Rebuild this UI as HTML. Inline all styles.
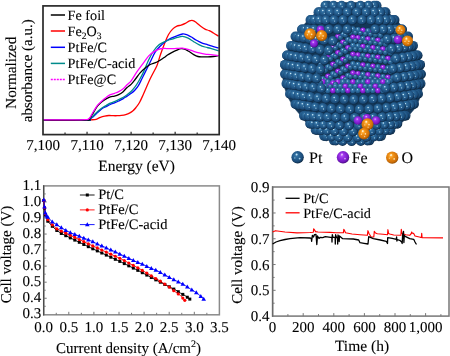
<!DOCTYPE html>
<html><head><meta charset="utf-8"><title>Figure</title>
<style>
html,body{margin:0;padding:0;background:#fff;}
body{width:450px;height:356px;overflow:hidden;}
svg{display:block;}
text{font-family:"Liberation Serif","Times New Roman",serif;fill:#000;stroke:#000;stroke-width:0.1px;text-rendering:geometricPrecision;}
</style></head><body>
<svg width="450" height="356" viewBox="0 0 450 356">
<defs><clipPath id="clipA"><rect x="43" y="5.9" width="176.2" height="128.7"/></clipPath></defs>
<rect width="450" height="356" fill="#fff"/>
<defs><radialGradient id="gPt" cx="0.45" cy="0.42" r="0.6" fx="0.38" fy="0.32"><stop offset="0" stop-color="#4a88b8"/><stop offset="0.13" stop-color="#3574a6"/><stop offset="0.35" stop-color="#2a6697"/><stop offset="0.78" stop-color="#1a4a78"/><stop offset="1" stop-color="#0a2238"/></radialGradient><radialGradient id="gPtB" cx="0.45" cy="0.42" r="0.6" fx="0.38" fy="0.32"><stop offset="0" stop-color="#a0d0ee"/><stop offset="0.13" stop-color="#4880ae"/><stop offset="0.35" stop-color="#225a88"/><stop offset="0.78" stop-color="#173f66"/><stop offset="1" stop-color="#0a2036"/></radialGradient><radialGradient id="gPt2" cx="0.45" cy="0.42" r="0.6" fx="0.38" fy="0.32"><stop offset="0" stop-color="#5a98c8"/><stop offset="0.13" stop-color="#4284b6"/><stop offset="0.35" stop-color="#3274a8"/><stop offset="0.78" stop-color="#225a8a"/><stop offset="1" stop-color="#0f2c48"/></radialGradient><radialGradient id="gPt3" cx="0.45" cy="0.42" r="0.6" fx="0.38" fy="0.32"><stop offset="0" stop-color="#4a88b8"/><stop offset="0.13" stop-color="#3676a8"/><stop offset="0.35" stop-color="#2a6898"/><stop offset="0.78" stop-color="#1c4e7c"/><stop offset="1" stop-color="#0c2640"/></radialGradient><radialGradient id="gFe" cx="0.45" cy="0.42" r="0.6" fx="0.38" fy="0.32"><stop offset="0" stop-color="#d890ff"/><stop offset="0.13" stop-color="#b050f5"/><stop offset="0.35" stop-color="#9a2ee8"/><stop offset="0.78" stop-color="#7418c0"/><stop offset="1" stop-color="#420878"/></radialGradient><radialGradient id="gO" cx="0.45" cy="0.42" r="0.6" fx="0.38" fy="0.32"><stop offset="0" stop-color="#fff0c0"/><stop offset="0.13" stop-color="#ffb040"/><stop offset="0.35" stop-color="#f09014"/><stop offset="0.78" stop-color="#d07008"/><stop offset="1" stop-color="#8a4800"/></radialGradient></defs>
<polygon points="325.0,2.6 377.0,2.6 378.8,5.6 387.8,12.2 396.8,20.0 404.3,29.5 410.3,39.0 415.3,48.5 419.8,58.3 422.3,67.8 423.3,77.2 422.8,86.8 420.3,96.8 416.3,106.8 407.8,116.8 399.8,124.7 392.8,130.8 383.4,136.9 371.8,141.0 368.0,143.2 335.3,143.2 331.5,141.0 321.8,136.9 313.2,130.8 307.7,124.7 301.7,116.8 293.2,106.8 287.7,96.8 284.2,86.8 282.7,77.2 282.7,67.8 284.7,58.3 288.7,48.5 293.2,39.0 299.7,29.5 308.2,20.0 316.2,12.2 323.2,5.6" fill="#133758" stroke="#133758" stroke-width="0.5" stroke-linejoin="round"/>
<polygon points="355,26.5 364,28 372,29.5 380,36 386,45 390,55 392.5,65 391,75 387,85 380,91.5 350,92.5 330,91.5 321,86 319.5,75 323,65 327.5,55 334,45 342,35 349,28.5" fill="#15364f"/>
<circle cx="353.0" cy="29.2" r="2.9" fill="url(#gPt2)"/>
<circle cx="352.5" cy="28.2" r="0.55" fill="#d8f0ff" fill-opacity="0.75"/>
<circle cx="358.0" cy="29.8" r="2.9" fill="url(#gPt2)"/>
<circle cx="357.5" cy="28.8" r="0.55" fill="#d8f0ff" fill-opacity="0.75"/>
<circle cx="363.0" cy="30.4" r="2.9" fill="url(#gFe)"/>
<circle cx="362.5" cy="29.4" r="0.55" fill="#f0d8ff" fill-opacity="0.75"/>
<circle cx="368.0" cy="31.0" r="2.9" fill="url(#gPt2)"/>
<circle cx="367.5" cy="30.0" r="0.55" fill="#d8f0ff" fill-opacity="0.75"/>
<circle cx="373.0" cy="31.6" r="2.9" fill="url(#gFe)"/>
<circle cx="372.5" cy="30.6" r="0.55" fill="#f0d8ff" fill-opacity="0.75"/>
<circle cx="348.0" cy="31.7" r="2.9" fill="url(#gFe)"/>
<circle cx="347.5" cy="30.7" r="0.55" fill="#f0d8ff" fill-opacity="0.75"/>
<circle cx="378.0" cy="32.2" r="2.9" fill="url(#gPt2)"/>
<circle cx="377.5" cy="31.2" r="0.55" fill="#d8f0ff" fill-opacity="0.75"/>
<circle cx="350.5" cy="32.8" r="2.6" fill="url(#gPt3)"/>
<circle cx="350.0" cy="31.8" r="0.55" fill="#d8f0ff" fill-opacity="0.75"/>
<circle cx="355.5" cy="32.8" r="2.6" fill="url(#gPt3)"/>
<circle cx="355.0" cy="31.8" r="0.55" fill="#d8f0ff" fill-opacity="0.75"/>
<circle cx="360.5" cy="33.4" r="2.6" fill="url(#gPt3)"/>
<circle cx="360.0" cy="32.4" r="0.55" fill="#d8f0ff" fill-opacity="0.75"/>
<circle cx="365.5" cy="34.0" r="2.6" fill="url(#gPt3)"/>
<circle cx="365.0" cy="33.0" r="0.55" fill="#d8f0ff" fill-opacity="0.75"/>
<circle cx="343.0" cy="34.2" r="2.9" fill="url(#gPt2)"/>
<circle cx="342.5" cy="33.2" r="0.55" fill="#d8f0ff" fill-opacity="0.75"/>
<circle cx="370.5" cy="34.6" r="2.6" fill="url(#gPt3)"/>
<circle cx="370.0" cy="33.6" r="0.55" fill="#d8f0ff" fill-opacity="0.75"/>
<circle cx="375.5" cy="35.2" r="2.6" fill="url(#gPt3)"/>
<circle cx="375.0" cy="34.2" r="0.55" fill="#d8f0ff" fill-opacity="0.75"/>
<circle cx="345.5" cy="35.3" r="2.6" fill="url(#gPt3)"/>
<circle cx="345.0" cy="34.3" r="0.55" fill="#d8f0ff" fill-opacity="0.75"/>
<circle cx="380.5" cy="35.8" r="2.6" fill="url(#gPt3)"/>
<circle cx="380.0" cy="34.8" r="0.55" fill="#d8f0ff" fill-opacity="0.75"/>
<circle cx="338.0" cy="36.7" r="2.9" fill="url(#gFe)"/>
<circle cx="337.5" cy="35.7" r="0.55" fill="#f0d8ff" fill-opacity="0.75"/>
<circle cx="353.0" cy="37.3" r="2.9" fill="url(#gFe)"/>
<circle cx="352.5" cy="36.3" r="0.55" fill="#f0d8ff" fill-opacity="0.75"/>
<circle cx="340.5" cy="37.8" r="2.6" fill="url(#gPt3)"/>
<circle cx="340.0" cy="36.8" r="0.55" fill="#d8f0ff" fill-opacity="0.75"/>
<circle cx="358.0" cy="37.9" r="2.9" fill="url(#gFe)"/>
<circle cx="357.5" cy="36.9" r="0.55" fill="#f0d8ff" fill-opacity="0.75"/>
<circle cx="363.0" cy="38.5" r="2.9" fill="url(#gPt2)"/>
<circle cx="362.5" cy="37.5" r="0.55" fill="#d8f0ff" fill-opacity="0.75"/>
<circle cx="368.0" cy="39.1" r="2.9" fill="url(#gFe)"/>
<circle cx="367.5" cy="38.1" r="0.55" fill="#f0d8ff" fill-opacity="0.75"/>
<circle cx="373.0" cy="39.7" r="2.9" fill="url(#gPt2)"/>
<circle cx="372.5" cy="38.7" r="0.55" fill="#d8f0ff" fill-opacity="0.75"/>
<circle cx="348.0" cy="39.8" r="2.9" fill="url(#gPt2)"/>
<circle cx="347.5" cy="38.8" r="0.55" fill="#d8f0ff" fill-opacity="0.75"/>
<circle cx="378.0" cy="40.3" r="2.9" fill="url(#gFe)"/>
<circle cx="377.5" cy="39.3" r="0.55" fill="#f0d8ff" fill-opacity="0.75"/>
<circle cx="335.5" cy="40.3" r="2.6" fill="url(#gPt3)"/>
<circle cx="335.0" cy="39.3" r="0.55" fill="#d8f0ff" fill-opacity="0.75"/>
<circle cx="383.0" cy="40.9" r="2.9" fill="url(#gPt2)"/>
<circle cx="382.5" cy="39.9" r="0.55" fill="#d8f0ff" fill-opacity="0.75"/>
<circle cx="350.5" cy="40.9" r="2.6" fill="url(#gPt3)"/>
<circle cx="350.0" cy="39.9" r="0.55" fill="#d8f0ff" fill-opacity="0.75"/>
<circle cx="355.5" cy="40.9" r="2.6" fill="url(#gPt3)"/>
<circle cx="355.0" cy="39.9" r="0.55" fill="#d8f0ff" fill-opacity="0.75"/>
<circle cx="360.5" cy="41.5" r="2.6" fill="url(#gPt3)"/>
<circle cx="360.0" cy="40.5" r="0.55" fill="#d8f0ff" fill-opacity="0.75"/>
<circle cx="365.5" cy="42.1" r="2.6" fill="url(#gPt3)"/>
<circle cx="365.0" cy="41.1" r="0.55" fill="#d8f0ff" fill-opacity="0.75"/>
<circle cx="343.0" cy="42.3" r="2.9" fill="url(#gFe)"/>
<circle cx="342.5" cy="41.3" r="0.55" fill="#f0d8ff" fill-opacity="0.75"/>
<circle cx="370.5" cy="42.7" r="2.6" fill="url(#gPt3)"/>
<circle cx="370.0" cy="41.7" r="0.55" fill="#d8f0ff" fill-opacity="0.75"/>
<circle cx="375.5" cy="43.3" r="2.6" fill="url(#gPt3)"/>
<circle cx="375.0" cy="42.3" r="0.55" fill="#d8f0ff" fill-opacity="0.75"/>
<circle cx="345.5" cy="43.4" r="2.6" fill="url(#gPt3)"/>
<circle cx="345.0" cy="42.4" r="0.55" fill="#d8f0ff" fill-opacity="0.75"/>
<circle cx="380.5" cy="43.9" r="2.6" fill="url(#gPt3)"/>
<circle cx="380.0" cy="42.9" r="0.55" fill="#d8f0ff" fill-opacity="0.75"/>
<circle cx="385.5" cy="44.5" r="2.6" fill="url(#gPt3)"/>
<circle cx="385.0" cy="43.5" r="0.55" fill="#d8f0ff" fill-opacity="0.75"/>
<circle cx="338.0" cy="44.8" r="2.9" fill="url(#gPt2)"/>
<circle cx="337.5" cy="43.8" r="0.55" fill="#d8f0ff" fill-opacity="0.75"/>
<circle cx="353.0" cy="45.5" r="2.9" fill="url(#gPt2)"/>
<circle cx="352.5" cy="44.5" r="0.55" fill="#d8f0ff" fill-opacity="0.75"/>
<circle cx="340.5" cy="45.9" r="2.6" fill="url(#gPt3)"/>
<circle cx="340.0" cy="44.9" r="0.55" fill="#d8f0ff" fill-opacity="0.75"/>
<circle cx="358.0" cy="46.1" r="2.9" fill="url(#gPt2)"/>
<circle cx="357.5" cy="45.1" r="0.55" fill="#d8f0ff" fill-opacity="0.75"/>
<circle cx="363.0" cy="46.7" r="2.9" fill="url(#gFe)"/>
<circle cx="362.5" cy="45.7" r="0.55" fill="#f0d8ff" fill-opacity="0.75"/>
<circle cx="333.0" cy="47.3" r="2.9" fill="url(#gFe)"/>
<circle cx="332.5" cy="46.3" r="0.55" fill="#f0d8ff" fill-opacity="0.75"/>
<circle cx="368.0" cy="47.3" r="2.9" fill="url(#gPt2)"/>
<circle cx="367.5" cy="46.3" r="0.55" fill="#d8f0ff" fill-opacity="0.75"/>
<circle cx="373.0" cy="47.9" r="2.9" fill="url(#gFe)"/>
<circle cx="372.5" cy="46.9" r="0.55" fill="#f0d8ff" fill-opacity="0.75"/>
<circle cx="348.0" cy="48.0" r="2.9" fill="url(#gFe)"/>
<circle cx="347.5" cy="47.0" r="0.55" fill="#f0d8ff" fill-opacity="0.75"/>
<circle cx="335.5" cy="48.4" r="2.6" fill="url(#gPt3)"/>
<circle cx="335.0" cy="47.4" r="0.55" fill="#d8f0ff" fill-opacity="0.75"/>
<circle cx="378.0" cy="48.5" r="2.9" fill="url(#gPt2)"/>
<circle cx="377.5" cy="47.5" r="0.55" fill="#d8f0ff" fill-opacity="0.75"/>
<circle cx="383.0" cy="49.1" r="2.9" fill="url(#gFe)"/>
<circle cx="382.5" cy="48.1" r="0.55" fill="#f0d8ff" fill-opacity="0.75"/>
<circle cx="350.5" cy="49.1" r="2.6" fill="url(#gPt3)"/>
<circle cx="350.0" cy="48.1" r="0.55" fill="#d8f0ff" fill-opacity="0.75"/>
<circle cx="355.5" cy="49.1" r="2.6" fill="url(#gPt3)"/>
<circle cx="355.0" cy="48.1" r="0.55" fill="#d8f0ff" fill-opacity="0.75"/>
<circle cx="388.0" cy="49.7" r="2.9" fill="url(#gPt2)"/>
<circle cx="387.5" cy="48.7" r="0.55" fill="#d8f0ff" fill-opacity="0.75"/>
<circle cx="360.5" cy="49.7" r="2.6" fill="url(#gPt3)"/>
<circle cx="360.0" cy="48.7" r="0.55" fill="#d8f0ff" fill-opacity="0.75"/>
<circle cx="328.0" cy="49.8" r="2.9" fill="url(#gPt2)"/>
<circle cx="327.5" cy="48.8" r="0.55" fill="#d8f0ff" fill-opacity="0.75"/>
<circle cx="365.5" cy="50.3" r="2.6" fill="url(#gPt3)"/>
<circle cx="365.0" cy="49.3" r="0.55" fill="#d8f0ff" fill-opacity="0.75"/>
<circle cx="343.0" cy="50.5" r="2.9" fill="url(#gPt2)"/>
<circle cx="342.5" cy="49.5" r="0.55" fill="#d8f0ff" fill-opacity="0.75"/>
<circle cx="330.5" cy="50.9" r="2.6" fill="url(#gPt3)"/>
<circle cx="330.0" cy="49.9" r="0.55" fill="#d8f0ff" fill-opacity="0.75"/>
<circle cx="370.5" cy="50.9" r="2.6" fill="url(#gPt3)"/>
<circle cx="370.0" cy="49.9" r="0.55" fill="#d8f0ff" fill-opacity="0.75"/>
<circle cx="375.5" cy="51.5" r="2.6" fill="url(#gPt3)"/>
<circle cx="375.0" cy="50.5" r="0.55" fill="#d8f0ff" fill-opacity="0.75"/>
<circle cx="345.5" cy="51.6" r="2.6" fill="url(#gPt3)"/>
<circle cx="345.0" cy="50.6" r="0.55" fill="#d8f0ff" fill-opacity="0.75"/>
<circle cx="380.5" cy="52.1" r="2.6" fill="url(#gPt3)"/>
<circle cx="380.0" cy="51.1" r="0.55" fill="#d8f0ff" fill-opacity="0.75"/>
<circle cx="385.5" cy="52.7" r="2.6" fill="url(#gPt3)"/>
<circle cx="385.0" cy="51.7" r="0.55" fill="#d8f0ff" fill-opacity="0.75"/>
<circle cx="338.0" cy="53.0" r="2.9" fill="url(#gFe)"/>
<circle cx="337.5" cy="52.0" r="0.55" fill="#f0d8ff" fill-opacity="0.75"/>
<circle cx="390.5" cy="53.3" r="2.6" fill="url(#gPt3)"/>
<circle cx="390.0" cy="52.3" r="0.55" fill="#d8f0ff" fill-opacity="0.75"/>
<circle cx="325.5" cy="53.4" r="2.6" fill="url(#gPt3)"/>
<circle cx="325.0" cy="52.4" r="0.55" fill="#d8f0ff" fill-opacity="0.75"/>
<circle cx="340.5" cy="54.1" r="2.6" fill="url(#gPt3)"/>
<circle cx="340.0" cy="53.1" r="0.55" fill="#d8f0ff" fill-opacity="0.75"/>
<circle cx="353.0" cy="54.5" r="2.9" fill="url(#gFe)"/>
<circle cx="352.5" cy="53.5" r="0.55" fill="#f0d8ff" fill-opacity="0.75"/>
<circle cx="358.0" cy="55.1" r="2.9" fill="url(#gFe)"/>
<circle cx="357.5" cy="54.1" r="0.55" fill="#f0d8ff" fill-opacity="0.75"/>
<circle cx="333.0" cy="55.5" r="2.9" fill="url(#gPt2)"/>
<circle cx="332.5" cy="54.5" r="0.55" fill="#d8f0ff" fill-opacity="0.75"/>
<circle cx="363.0" cy="55.7" r="2.9" fill="url(#gPt2)"/>
<circle cx="362.5" cy="54.7" r="0.55" fill="#d8f0ff" fill-opacity="0.75"/>
<circle cx="368.0" cy="56.3" r="2.9" fill="url(#gFe)"/>
<circle cx="367.5" cy="55.3" r="0.55" fill="#f0d8ff" fill-opacity="0.75"/>
<circle cx="335.5" cy="56.6" r="2.6" fill="url(#gPt3)"/>
<circle cx="335.0" cy="55.6" r="0.55" fill="#d8f0ff" fill-opacity="0.75"/>
<circle cx="373.0" cy="56.9" r="2.9" fill="url(#gPt2)"/>
<circle cx="372.5" cy="55.9" r="0.55" fill="#d8f0ff" fill-opacity="0.75"/>
<circle cx="348.0" cy="57.0" r="2.9" fill="url(#gPt2)"/>
<circle cx="347.5" cy="56.0" r="0.55" fill="#d8f0ff" fill-opacity="0.75"/>
<circle cx="378.0" cy="57.5" r="2.9" fill="url(#gFe)"/>
<circle cx="377.5" cy="56.5" r="0.55" fill="#f0d8ff" fill-opacity="0.75"/>
<circle cx="328.0" cy="58.0" r="2.9" fill="url(#gFe)"/>
<circle cx="327.5" cy="57.0" r="0.55" fill="#f0d8ff" fill-opacity="0.75"/>
<circle cx="383.0" cy="58.1" r="2.9" fill="url(#gPt2)"/>
<circle cx="382.5" cy="57.1" r="0.55" fill="#d8f0ff" fill-opacity="0.75"/>
<circle cx="350.5" cy="58.1" r="2.6" fill="url(#gPt3)"/>
<circle cx="350.0" cy="57.1" r="0.55" fill="#d8f0ff" fill-opacity="0.75"/>
<circle cx="355.5" cy="58.1" r="2.6" fill="url(#gPt3)"/>
<circle cx="355.0" cy="57.1" r="0.55" fill="#d8f0ff" fill-opacity="0.75"/>
<circle cx="388.0" cy="58.7" r="2.9" fill="url(#gFe)"/>
<circle cx="387.5" cy="57.7" r="0.55" fill="#f0d8ff" fill-opacity="0.75"/>
<circle cx="360.5" cy="58.7" r="2.6" fill="url(#gPt3)"/>
<circle cx="360.0" cy="57.7" r="0.55" fill="#d8f0ff" fill-opacity="0.75"/>
<circle cx="330.5" cy="59.1" r="2.6" fill="url(#gPt3)"/>
<circle cx="330.0" cy="58.1" r="0.55" fill="#d8f0ff" fill-opacity="0.75"/>
<circle cx="393.0" cy="59.3" r="2.9" fill="url(#gPt2)"/>
<circle cx="392.5" cy="58.3" r="0.55" fill="#d8f0ff" fill-opacity="0.75"/>
<circle cx="365.5" cy="59.3" r="2.6" fill="url(#gPt3)"/>
<circle cx="365.0" cy="58.3" r="0.55" fill="#d8f0ff" fill-opacity="0.75"/>
<circle cx="343.0" cy="59.5" r="2.9" fill="url(#gFe)"/>
<circle cx="342.5" cy="58.5" r="0.55" fill="#f0d8ff" fill-opacity="0.75"/>
<circle cx="370.5" cy="59.9" r="2.6" fill="url(#gPt3)"/>
<circle cx="370.0" cy="58.9" r="0.55" fill="#d8f0ff" fill-opacity="0.75"/>
<circle cx="323.0" cy="60.5" r="2.9" fill="url(#gPt2)"/>
<circle cx="322.5" cy="59.5" r="0.55" fill="#d8f0ff" fill-opacity="0.75"/>
<circle cx="375.5" cy="60.5" r="2.6" fill="url(#gPt3)"/>
<circle cx="375.0" cy="59.5" r="0.55" fill="#d8f0ff" fill-opacity="0.75"/>
<circle cx="345.5" cy="60.6" r="2.6" fill="url(#gPt3)"/>
<circle cx="345.0" cy="59.6" r="0.55" fill="#d8f0ff" fill-opacity="0.75"/>
<circle cx="380.5" cy="61.1" r="2.6" fill="url(#gPt3)"/>
<circle cx="380.0" cy="60.1" r="0.55" fill="#d8f0ff" fill-opacity="0.75"/>
<circle cx="325.5" cy="61.6" r="2.6" fill="url(#gPt3)"/>
<circle cx="325.0" cy="60.6" r="0.55" fill="#d8f0ff" fill-opacity="0.75"/>
<circle cx="385.5" cy="61.7" r="2.6" fill="url(#gPt3)"/>
<circle cx="385.0" cy="60.7" r="0.55" fill="#d8f0ff" fill-opacity="0.75"/>
<circle cx="338.0" cy="62.0" r="2.9" fill="url(#gPt2)"/>
<circle cx="337.5" cy="61.0" r="0.55" fill="#d8f0ff" fill-opacity="0.75"/>
<circle cx="390.5" cy="62.3" r="2.6" fill="url(#gPt3)"/>
<circle cx="390.0" cy="61.3" r="0.55" fill="#d8f0ff" fill-opacity="0.75"/>
<circle cx="340.5" cy="63.1" r="2.6" fill="url(#gPt3)"/>
<circle cx="340.0" cy="62.1" r="0.55" fill="#d8f0ff" fill-opacity="0.75"/>
<circle cx="353.0" cy="64.0" r="2.9" fill="url(#gPt2)"/>
<circle cx="352.5" cy="63.0" r="0.55" fill="#d8f0ff" fill-opacity="0.75"/>
<circle cx="320.5" cy="64.1" r="2.6" fill="url(#gPt3)"/>
<circle cx="320.0" cy="63.1" r="0.55" fill="#d8f0ff" fill-opacity="0.75"/>
<circle cx="333.0" cy="64.5" r="2.9" fill="url(#gFe)"/>
<circle cx="332.5" cy="63.5" r="0.55" fill="#f0d8ff" fill-opacity="0.75"/>
<circle cx="358.0" cy="64.6" r="2.9" fill="url(#gPt2)"/>
<circle cx="357.5" cy="63.6" r="0.55" fill="#d8f0ff" fill-opacity="0.75"/>
<circle cx="363.0" cy="65.2" r="2.9" fill="url(#gFe)"/>
<circle cx="362.5" cy="64.2" r="0.55" fill="#f0d8ff" fill-opacity="0.75"/>
<circle cx="335.5" cy="65.6" r="2.6" fill="url(#gPt3)"/>
<circle cx="335.0" cy="64.6" r="0.55" fill="#d8f0ff" fill-opacity="0.75"/>
<circle cx="368.0" cy="65.8" r="2.9" fill="url(#gPt2)"/>
<circle cx="367.5" cy="64.8" r="0.55" fill="#d8f0ff" fill-opacity="0.75"/>
<circle cx="373.0" cy="66.4" r="2.9" fill="url(#gFe)"/>
<circle cx="372.5" cy="65.4" r="0.55" fill="#f0d8ff" fill-opacity="0.75"/>
<circle cx="348.0" cy="66.5" r="2.9" fill="url(#gFe)"/>
<circle cx="347.5" cy="65.5" r="0.55" fill="#f0d8ff" fill-opacity="0.75"/>
<circle cx="328.0" cy="67.0" r="2.9" fill="url(#gPt2)"/>
<circle cx="327.5" cy="66.0" r="0.55" fill="#d8f0ff" fill-opacity="0.75"/>
<circle cx="378.0" cy="67.0" r="2.9" fill="url(#gPt2)"/>
<circle cx="377.5" cy="66.0" r="0.55" fill="#d8f0ff" fill-opacity="0.75"/>
<circle cx="383.0" cy="67.6" r="2.9" fill="url(#gFe)"/>
<circle cx="382.5" cy="66.6" r="0.55" fill="#f0d8ff" fill-opacity="0.75"/>
<circle cx="350.5" cy="67.6" r="2.6" fill="url(#gPt3)"/>
<circle cx="350.0" cy="66.6" r="0.55" fill="#d8f0ff" fill-opacity="0.75"/>
<circle cx="355.5" cy="67.6" r="2.6" fill="url(#gPt3)"/>
<circle cx="355.0" cy="66.6" r="0.55" fill="#d8f0ff" fill-opacity="0.75"/>
<circle cx="330.5" cy="68.1" r="2.6" fill="url(#gPt3)"/>
<circle cx="330.0" cy="67.1" r="0.55" fill="#d8f0ff" fill-opacity="0.75"/>
<circle cx="388.0" cy="68.2" r="2.9" fill="url(#gPt2)"/>
<circle cx="387.5" cy="67.2" r="0.55" fill="#d8f0ff" fill-opacity="0.75"/>
<circle cx="360.5" cy="68.2" r="2.6" fill="url(#gPt3)"/>
<circle cx="360.0" cy="67.2" r="0.55" fill="#d8f0ff" fill-opacity="0.75"/>
<circle cx="393.0" cy="68.8" r="2.9" fill="url(#gFe)"/>
<circle cx="392.5" cy="67.8" r="0.55" fill="#f0d8ff" fill-opacity="0.75"/>
<circle cx="365.5" cy="68.8" r="2.6" fill="url(#gPt3)"/>
<circle cx="365.0" cy="67.8" r="0.55" fill="#d8f0ff" fill-opacity="0.75"/>
<circle cx="343.0" cy="69.0" r="2.9" fill="url(#gPt2)"/>
<circle cx="342.5" cy="68.0" r="0.55" fill="#d8f0ff" fill-opacity="0.75"/>
<circle cx="370.5" cy="69.4" r="2.6" fill="url(#gPt3)"/>
<circle cx="370.0" cy="68.4" r="0.55" fill="#d8f0ff" fill-opacity="0.75"/>
<circle cx="323.0" cy="69.5" r="2.9" fill="url(#gFe)"/>
<circle cx="322.5" cy="68.5" r="0.55" fill="#f0d8ff" fill-opacity="0.75"/>
<circle cx="375.5" cy="70.0" r="2.6" fill="url(#gPt3)"/>
<circle cx="375.0" cy="69.0" r="0.55" fill="#d8f0ff" fill-opacity="0.75"/>
<circle cx="345.5" cy="70.1" r="2.6" fill="url(#gPt3)"/>
<circle cx="345.0" cy="69.1" r="0.55" fill="#d8f0ff" fill-opacity="0.75"/>
<circle cx="325.5" cy="70.6" r="2.6" fill="url(#gPt3)"/>
<circle cx="325.0" cy="69.6" r="0.55" fill="#d8f0ff" fill-opacity="0.75"/>
<circle cx="380.5" cy="70.6" r="2.6" fill="url(#gPt3)"/>
<circle cx="380.0" cy="69.6" r="0.55" fill="#d8f0ff" fill-opacity="0.75"/>
<circle cx="385.5" cy="71.2" r="2.6" fill="url(#gPt3)"/>
<circle cx="385.0" cy="70.2" r="0.55" fill="#d8f0ff" fill-opacity="0.75"/>
<circle cx="338.0" cy="71.5" r="2.9" fill="url(#gFe)"/>
<circle cx="337.5" cy="70.5" r="0.55" fill="#f0d8ff" fill-opacity="0.75"/>
<circle cx="390.5" cy="71.8" r="2.6" fill="url(#gPt3)"/>
<circle cx="390.0" cy="70.8" r="0.55" fill="#d8f0ff" fill-opacity="0.75"/>
<circle cx="318.0" cy="72.0" r="2.9" fill="url(#gPt2)"/>
<circle cx="317.5" cy="71.0" r="0.55" fill="#d8f0ff" fill-opacity="0.75"/>
<circle cx="340.5" cy="72.6" r="2.6" fill="url(#gPt3)"/>
<circle cx="340.0" cy="71.6" r="0.55" fill="#d8f0ff" fill-opacity="0.75"/>
<circle cx="320.5" cy="73.1" r="2.6" fill="url(#gPt3)"/>
<circle cx="320.0" cy="72.1" r="0.55" fill="#d8f0ff" fill-opacity="0.75"/>
<circle cx="353.0" cy="73.2" r="2.9" fill="url(#gFe)"/>
<circle cx="352.5" cy="72.2" r="0.55" fill="#f0d8ff" fill-opacity="0.75"/>
<circle cx="358.0" cy="73.8" r="2.9" fill="url(#gFe)"/>
<circle cx="357.5" cy="72.8" r="0.55" fill="#f0d8ff" fill-opacity="0.75"/>
<circle cx="333.0" cy="74.0" r="2.9" fill="url(#gPt2)"/>
<circle cx="332.5" cy="73.0" r="0.55" fill="#d8f0ff" fill-opacity="0.75"/>
<circle cx="363.0" cy="74.4" r="2.9" fill="url(#gPt2)"/>
<circle cx="362.5" cy="73.4" r="0.55" fill="#d8f0ff" fill-opacity="0.75"/>
<circle cx="368.0" cy="75.0" r="2.9" fill="url(#gFe)"/>
<circle cx="367.5" cy="74.0" r="0.55" fill="#f0d8ff" fill-opacity="0.75"/>
<circle cx="335.5" cy="75.1" r="2.6" fill="url(#gPt3)"/>
<circle cx="335.0" cy="74.1" r="0.55" fill="#d8f0ff" fill-opacity="0.75"/>
<circle cx="373.0" cy="75.6" r="2.9" fill="url(#gPt2)"/>
<circle cx="372.5" cy="74.6" r="0.55" fill="#d8f0ff" fill-opacity="0.75"/>
<circle cx="348.0" cy="75.7" r="2.9" fill="url(#gPt2)"/>
<circle cx="347.5" cy="74.7" r="0.55" fill="#d8f0ff" fill-opacity="0.75"/>
<circle cx="378.0" cy="76.2" r="2.9" fill="url(#gFe)"/>
<circle cx="377.5" cy="75.2" r="0.55" fill="#f0d8ff" fill-opacity="0.75"/>
<circle cx="328.0" cy="76.5" r="2.9" fill="url(#gFe)"/>
<circle cx="327.5" cy="75.5" r="0.55" fill="#f0d8ff" fill-opacity="0.75"/>
<circle cx="383.0" cy="76.8" r="2.9" fill="url(#gPt2)"/>
<circle cx="382.5" cy="75.8" r="0.55" fill="#d8f0ff" fill-opacity="0.75"/>
<circle cx="350.5" cy="76.8" r="2.6" fill="url(#gPt3)"/>
<circle cx="350.0" cy="75.8" r="0.55" fill="#d8f0ff" fill-opacity="0.75"/>
<circle cx="355.5" cy="76.8" r="2.6" fill="url(#gPt3)"/>
<circle cx="355.0" cy="75.8" r="0.55" fill="#d8f0ff" fill-opacity="0.75"/>
<circle cx="388.0" cy="77.4" r="2.9" fill="url(#gFe)"/>
<circle cx="387.5" cy="76.4" r="0.55" fill="#f0d8ff" fill-opacity="0.75"/>
<circle cx="360.5" cy="77.4" r="2.6" fill="url(#gPt3)"/>
<circle cx="360.0" cy="76.4" r="0.55" fill="#d8f0ff" fill-opacity="0.75"/>
<circle cx="330.5" cy="77.6" r="2.6" fill="url(#gPt3)"/>
<circle cx="330.0" cy="76.6" r="0.55" fill="#d8f0ff" fill-opacity="0.75"/>
<circle cx="393.0" cy="78.0" r="2.9" fill="url(#gPt2)"/>
<circle cx="392.5" cy="77.0" r="0.55" fill="#d8f0ff" fill-opacity="0.75"/>
<circle cx="365.5" cy="78.0" r="2.6" fill="url(#gPt3)"/>
<circle cx="365.0" cy="77.0" r="0.55" fill="#d8f0ff" fill-opacity="0.75"/>
<circle cx="343.0" cy="78.2" r="2.9" fill="url(#gFe)"/>
<circle cx="342.5" cy="77.2" r="0.55" fill="#f0d8ff" fill-opacity="0.75"/>
<circle cx="370.5" cy="78.6" r="2.6" fill="url(#gPt3)"/>
<circle cx="370.0" cy="77.6" r="0.55" fill="#d8f0ff" fill-opacity="0.75"/>
<circle cx="323.0" cy="79.0" r="2.9" fill="url(#gPt2)"/>
<circle cx="322.5" cy="78.0" r="0.55" fill="#d8f0ff" fill-opacity="0.75"/>
<circle cx="375.5" cy="79.2" r="2.6" fill="url(#gPt3)"/>
<circle cx="375.0" cy="78.2" r="0.55" fill="#d8f0ff" fill-opacity="0.75"/>
<circle cx="345.5" cy="79.3" r="2.6" fill="url(#gPt3)"/>
<circle cx="345.0" cy="78.3" r="0.55" fill="#d8f0ff" fill-opacity="0.75"/>
<circle cx="380.5" cy="79.8" r="2.6" fill="url(#gPt3)"/>
<circle cx="380.0" cy="78.8" r="0.55" fill="#d8f0ff" fill-opacity="0.75"/>
<circle cx="325.5" cy="80.1" r="2.6" fill="url(#gPt3)"/>
<circle cx="325.0" cy="79.1" r="0.55" fill="#d8f0ff" fill-opacity="0.75"/>
<circle cx="385.5" cy="80.4" r="2.6" fill="url(#gPt3)"/>
<circle cx="385.0" cy="79.4" r="0.55" fill="#d8f0ff" fill-opacity="0.75"/>
<circle cx="338.0" cy="80.7" r="2.9" fill="url(#gPt2)"/>
<circle cx="337.5" cy="79.7" r="0.55" fill="#d8f0ff" fill-opacity="0.75"/>
<circle cx="390.5" cy="81.0" r="2.6" fill="url(#gPt3)"/>
<circle cx="390.0" cy="80.0" r="0.55" fill="#d8f0ff" fill-opacity="0.75"/>
<circle cx="318.0" cy="81.5" r="2.9" fill="url(#gFe)"/>
<circle cx="317.5" cy="80.5" r="0.55" fill="#f0d8ff" fill-opacity="0.75"/>
<circle cx="340.5" cy="81.8" r="2.6" fill="url(#gPt3)"/>
<circle cx="340.0" cy="80.8" r="0.55" fill="#d8f0ff" fill-opacity="0.75"/>
<circle cx="318.0" cy="82.0" r="2.9" fill="url(#gPt2)"/>
<circle cx="317.5" cy="81.0" r="0.55" fill="#d8f0ff" fill-opacity="0.75"/>
<circle cx="323.0" cy="82.0" r="2.9" fill="url(#gFe)"/>
<circle cx="322.5" cy="81.0" r="0.55" fill="#f0d8ff" fill-opacity="0.75"/>
<circle cx="328.0" cy="82.0" r="2.9" fill="url(#gPt2)"/>
<circle cx="327.5" cy="81.0" r="0.55" fill="#d8f0ff" fill-opacity="0.75"/>
<circle cx="333.0" cy="82.0" r="2.9" fill="url(#gPt2)"/>
<circle cx="332.5" cy="81.0" r="0.55" fill="#d8f0ff" fill-opacity="0.75"/>
<circle cx="338.0" cy="82.0" r="2.9" fill="url(#gFe)"/>
<circle cx="337.5" cy="81.0" r="0.55" fill="#f0d8ff" fill-opacity="0.75"/>
<circle cx="343.0" cy="82.0" r="2.9" fill="url(#gPt2)"/>
<circle cx="342.5" cy="81.0" r="0.55" fill="#d8f0ff" fill-opacity="0.75"/>
<circle cx="348.0" cy="82.0" r="2.9" fill="url(#gPt2)"/>
<circle cx="347.5" cy="81.0" r="0.55" fill="#d8f0ff" fill-opacity="0.75"/>
<circle cx="353.0" cy="82.0" r="2.9" fill="url(#gFe)"/>
<circle cx="352.5" cy="81.0" r="0.55" fill="#f0d8ff" fill-opacity="0.75"/>
<circle cx="358.0" cy="82.0" r="2.9" fill="url(#gPt2)"/>
<circle cx="357.5" cy="81.0" r="0.55" fill="#d8f0ff" fill-opacity="0.75"/>
<circle cx="363.0" cy="82.0" r="2.9" fill="url(#gPt2)"/>
<circle cx="362.5" cy="81.0" r="0.55" fill="#d8f0ff" fill-opacity="0.75"/>
<circle cx="368.0" cy="82.0" r="2.9" fill="url(#gFe)"/>
<circle cx="367.5" cy="81.0" r="0.55" fill="#f0d8ff" fill-opacity="0.75"/>
<circle cx="373.0" cy="82.0" r="2.9" fill="url(#gPt2)"/>
<circle cx="372.5" cy="81.0" r="0.55" fill="#d8f0ff" fill-opacity="0.75"/>
<circle cx="378.0" cy="82.0" r="2.9" fill="url(#gPt2)"/>
<circle cx="377.5" cy="81.0" r="0.55" fill="#d8f0ff" fill-opacity="0.75"/>
<circle cx="383.0" cy="82.0" r="2.9" fill="url(#gFe)"/>
<circle cx="382.5" cy="81.0" r="0.55" fill="#f0d8ff" fill-opacity="0.75"/>
<circle cx="388.0" cy="82.0" r="2.9" fill="url(#gPt2)"/>
<circle cx="387.5" cy="81.0" r="0.55" fill="#d8f0ff" fill-opacity="0.75"/>
<circle cx="320.5" cy="82.6" r="2.6" fill="url(#gPt3)"/>
<circle cx="320.0" cy="81.6" r="0.55" fill="#d8f0ff" fill-opacity="0.75"/>
<circle cx="333.0" cy="83.2" r="2.9" fill="url(#gFe)"/>
<circle cx="332.5" cy="82.2" r="0.55" fill="#f0d8ff" fill-opacity="0.75"/>
<circle cx="335.5" cy="84.3" r="2.6" fill="url(#gPt3)"/>
<circle cx="335.0" cy="83.3" r="0.55" fill="#d8f0ff" fill-opacity="0.75"/>
<circle cx="328.0" cy="85.7" r="2.9" fill="url(#gPt2)"/>
<circle cx="327.5" cy="84.7" r="0.55" fill="#d8f0ff" fill-opacity="0.75"/>
<circle cx="320.5" cy="86.3" r="2.9" fill="url(#gPt2)"/>
<circle cx="320.0" cy="85.3" r="0.55" fill="#d8f0ff" fill-opacity="0.75"/>
<circle cx="325.5" cy="86.3" r="2.9" fill="url(#gPt2)"/>
<circle cx="325.0" cy="85.3" r="0.55" fill="#d8f0ff" fill-opacity="0.75"/>
<circle cx="330.5" cy="86.3" r="2.9" fill="url(#gFe)"/>
<circle cx="330.0" cy="85.3" r="0.55" fill="#f0d8ff" fill-opacity="0.75"/>
<circle cx="335.5" cy="86.3" r="2.9" fill="url(#gPt2)"/>
<circle cx="335.0" cy="85.3" r="0.55" fill="#d8f0ff" fill-opacity="0.75"/>
<circle cx="340.5" cy="86.3" r="2.9" fill="url(#gPt2)"/>
<circle cx="340.0" cy="85.3" r="0.55" fill="#d8f0ff" fill-opacity="0.75"/>
<circle cx="345.5" cy="86.3" r="2.9" fill="url(#gFe)"/>
<circle cx="345.0" cy="85.3" r="0.55" fill="#f0d8ff" fill-opacity="0.75"/>
<circle cx="350.5" cy="86.3" r="2.9" fill="url(#gPt2)"/>
<circle cx="350.0" cy="85.3" r="0.55" fill="#d8f0ff" fill-opacity="0.75"/>
<circle cx="355.5" cy="86.3" r="2.9" fill="url(#gPt2)"/>
<circle cx="355.0" cy="85.3" r="0.55" fill="#d8f0ff" fill-opacity="0.75"/>
<circle cx="360.5" cy="86.3" r="2.9" fill="url(#gFe)"/>
<circle cx="360.0" cy="85.3" r="0.55" fill="#f0d8ff" fill-opacity="0.75"/>
<circle cx="365.5" cy="86.3" r="2.9" fill="url(#gPt2)"/>
<circle cx="365.0" cy="85.3" r="0.55" fill="#d8f0ff" fill-opacity="0.75"/>
<circle cx="370.5" cy="86.3" r="2.9" fill="url(#gPt2)"/>
<circle cx="370.0" cy="85.3" r="0.55" fill="#d8f0ff" fill-opacity="0.75"/>
<circle cx="375.5" cy="86.3" r="2.9" fill="url(#gFe)"/>
<circle cx="375.0" cy="85.3" r="0.55" fill="#f0d8ff" fill-opacity="0.75"/>
<circle cx="380.5" cy="86.3" r="2.9" fill="url(#gPt2)"/>
<circle cx="380.0" cy="85.3" r="0.55" fill="#d8f0ff" fill-opacity="0.75"/>
<circle cx="385.5" cy="86.3" r="2.9" fill="url(#gPt2)"/>
<circle cx="385.0" cy="85.3" r="0.55" fill="#d8f0ff" fill-opacity="0.75"/>
<circle cx="330.5" cy="86.8" r="2.6" fill="url(#gPt3)"/>
<circle cx="330.0" cy="85.8" r="0.55" fill="#d8f0ff" fill-opacity="0.75"/>
<circle cx="323.0" cy="88.2" r="2.9" fill="url(#gFe)"/>
<circle cx="322.5" cy="87.2" r="0.55" fill="#f0d8ff" fill-opacity="0.75"/>
<circle cx="325.5" cy="89.3" r="2.6" fill="url(#gPt3)"/>
<circle cx="325.0" cy="88.3" r="0.55" fill="#d8f0ff" fill-opacity="0.75"/>
<circle cx="323.0" cy="90.6" r="2.9" fill="url(#gPt2)"/>
<circle cx="322.5" cy="89.6" r="0.55" fill="#d8f0ff" fill-opacity="0.75"/>
<circle cx="328.0" cy="90.6" r="2.9" fill="url(#gPt2)"/>
<circle cx="327.5" cy="89.6" r="0.55" fill="#d8f0ff" fill-opacity="0.75"/>
<circle cx="333.0" cy="90.6" r="2.9" fill="url(#gFe)"/>
<circle cx="332.5" cy="89.6" r="0.55" fill="#f0d8ff" fill-opacity="0.75"/>
<circle cx="338.0" cy="90.6" r="2.9" fill="url(#gPt2)"/>
<circle cx="337.5" cy="89.6" r="0.55" fill="#d8f0ff" fill-opacity="0.75"/>
<circle cx="343.0" cy="90.6" r="2.9" fill="url(#gPt2)"/>
<circle cx="342.5" cy="89.6" r="0.55" fill="#d8f0ff" fill-opacity="0.75"/>
<circle cx="348.0" cy="90.6" r="2.9" fill="url(#gFe)"/>
<circle cx="347.5" cy="89.6" r="0.55" fill="#f0d8ff" fill-opacity="0.75"/>
<circle cx="353.0" cy="90.6" r="2.9" fill="url(#gPt2)"/>
<circle cx="352.5" cy="89.6" r="0.55" fill="#d8f0ff" fill-opacity="0.75"/>
<circle cx="358.0" cy="90.6" r="2.9" fill="url(#gPt2)"/>
<circle cx="357.5" cy="89.6" r="0.55" fill="#d8f0ff" fill-opacity="0.75"/>
<circle cx="363.0" cy="90.6" r="2.9" fill="url(#gFe)"/>
<circle cx="362.5" cy="89.6" r="0.55" fill="#f0d8ff" fill-opacity="0.75"/>
<circle cx="368.0" cy="90.6" r="2.9" fill="url(#gPt2)"/>
<circle cx="367.5" cy="89.6" r="0.55" fill="#d8f0ff" fill-opacity="0.75"/>
<circle cx="373.0" cy="90.6" r="2.9" fill="url(#gPt2)"/>
<circle cx="372.5" cy="89.6" r="0.55" fill="#d8f0ff" fill-opacity="0.75"/>
<circle cx="378.0" cy="90.6" r="2.9" fill="url(#gFe)"/>
<circle cx="377.5" cy="89.6" r="0.55" fill="#f0d8ff" fill-opacity="0.75"/>
<circle cx="383.0" cy="90.6" r="2.9" fill="url(#gPt2)"/>
<circle cx="382.5" cy="89.6" r="0.55" fill="#d8f0ff" fill-opacity="0.75"/>
<circle cx="327.9" cy="5.6" r="4.90" fill="url(#gPt)"/>
<circle cx="327.0" cy="3.9" r="0.75" fill="#d8f4ff" fill-opacity="0.9"/>
<circle cx="328.5" cy="6.7" r="0.65" fill="#c8ecff" fill-opacity="0.75"/>
<circle cx="325.4" cy="5.6" r="4.90" fill="url(#gPt)"/>
<circle cx="324.5" cy="3.9" r="0.75" fill="#d8f4ff" fill-opacity="0.9"/>
<circle cx="326.0" cy="6.7" r="0.65" fill="#c8ecff" fill-opacity="0.75"/>
<circle cx="376.6" cy="5.6" r="4.90" fill="url(#gPt)"/>
<circle cx="375.7" cy="3.9" r="0.75" fill="#d8f4ff" fill-opacity="0.9"/>
<circle cx="377.2" cy="6.7" r="0.65" fill="#c8ecff" fill-opacity="0.75"/>
<circle cx="333.7" cy="140.6" r="4.70" fill="url(#gPt)"/>
<circle cx="332.8" cy="138.9" r="0.75" fill="#d8f4ff" fill-opacity="0.9"/>
<circle cx="334.3" cy="141.7" r="0.65" fill="#c8ecff" fill-opacity="0.75"/>
<circle cx="374.1" cy="5.6" r="4.90" fill="url(#gPt)"/>
<circle cx="373.2" cy="3.9" r="0.75" fill="#d8f4ff" fill-opacity="0.9"/>
<circle cx="374.7" cy="6.7" r="0.65" fill="#c8ecff" fill-opacity="0.75"/>
<circle cx="333.6" cy="5.6" r="4.90" fill="url(#gPt)"/>
<circle cx="332.7" cy="3.9" r="0.75" fill="#d8f4ff" fill-opacity="0.9"/>
<circle cx="334.2" cy="6.7" r="0.65" fill="#c8ecff" fill-opacity="0.75"/>
<circle cx="335.9" cy="140.8" r="4.70" fill="url(#gPt)"/>
<circle cx="335.0" cy="139.1" r="0.75" fill="#d8f4ff" fill-opacity="0.9"/>
<circle cx="336.5" cy="141.9" r="0.65" fill="#c8ecff" fill-opacity="0.75"/>
<circle cx="324.0" cy="136.3" r="4.70" fill="url(#gPt)"/>
<circle cx="323.1" cy="134.6" r="0.75" fill="#d8f4ff" fill-opacity="0.9"/>
<circle cx="324.6" cy="137.4" r="0.65" fill="#c8ecff" fill-opacity="0.75"/>
<circle cx="318.4" cy="12.2" r="4.90" fill="url(#gPt)"/>
<circle cx="317.5" cy="10.5" r="0.75" fill="#d8f4ff" fill-opacity="0.9"/>
<circle cx="319.0" cy="13.3" r="0.65" fill="#c8ecff" fill-opacity="0.75"/>
<circle cx="369.6" cy="140.6" r="4.70" fill="url(#gPt)"/>
<circle cx="368.7" cy="138.9" r="0.75" fill="#d8f4ff" fill-opacity="0.9"/>
<circle cx="370.2" cy="141.7" r="0.65" fill="#c8ecff" fill-opacity="0.75"/>
<circle cx="381.2" cy="136.3" r="4.70" fill="url(#gPt)"/>
<circle cx="380.3" cy="134.6" r="0.75" fill="#d8f4ff" fill-opacity="0.9"/>
<circle cx="381.8" cy="137.4" r="0.65" fill="#c8ecff" fill-opacity="0.75"/>
<circle cx="367.4" cy="140.8" r="4.70" fill="url(#gPt)"/>
<circle cx="366.5" cy="139.1" r="0.75" fill="#d8f4ff" fill-opacity="0.9"/>
<circle cx="368.0" cy="141.9" r="0.65" fill="#c8ecff" fill-opacity="0.75"/>
<circle cx="326.2" cy="136.5" r="4.70" fill="url(#gPt)"/>
<circle cx="325.3" cy="134.8" r="0.75" fill="#d8f4ff" fill-opacity="0.9"/>
<circle cx="326.8" cy="137.6" r="0.65" fill="#c8ecff" fill-opacity="0.75"/>
<circle cx="319.8" cy="12.2" r="4.90" fill="url(#gPt)"/>
<circle cx="318.9" cy="10.5" r="0.75" fill="#d8f4ff" fill-opacity="0.9"/>
<circle cx="320.4" cy="13.3" r="0.65" fill="#c8ecff" fill-opacity="0.75"/>
<circle cx="368.4" cy="5.6" r="4.90" fill="url(#gPt)"/>
<circle cx="367.5" cy="3.9" r="0.75" fill="#d8f4ff" fill-opacity="0.9"/>
<circle cx="369.0" cy="6.7" r="0.65" fill="#c8ecff" fill-opacity="0.75"/>
<circle cx="342.5" cy="141.2" r="4.70" fill="url(#gPt)"/>
<circle cx="341.6" cy="139.5" r="0.75" fill="#d8f4ff" fill-opacity="0.9"/>
<circle cx="343.1" cy="142.3" r="0.65" fill="#c8ecff" fill-opacity="0.75"/>
<circle cx="315.4" cy="130.0" r="4.70" fill="url(#gPt)"/>
<circle cx="314.5" cy="128.3" r="0.75" fill="#d8f4ff" fill-opacity="0.9"/>
<circle cx="316.0" cy="131.1" r="0.65" fill="#c8ecff" fill-opacity="0.75"/>
<circle cx="379.0" cy="136.5" r="4.70" fill="url(#gPt)"/>
<circle cx="378.1" cy="134.8" r="0.75" fill="#d8f4ff" fill-opacity="0.9"/>
<circle cx="379.6" cy="137.6" r="0.65" fill="#c8ecff" fill-opacity="0.75"/>
<circle cx="385.6" cy="12.2" r="4.90" fill="url(#gPt)"/>
<circle cx="384.7" cy="10.5" r="0.75" fill="#d8f4ff" fill-opacity="0.9"/>
<circle cx="386.2" cy="13.3" r="0.65" fill="#c8ecff" fill-opacity="0.75"/>
<circle cx="341.6" cy="5.6" r="4.90" fill="url(#gPt)"/>
<circle cx="340.7" cy="3.9" r="0.75" fill="#d8f4ff" fill-opacity="0.9"/>
<circle cx="342.2" cy="6.7" r="0.65" fill="#c8ecff" fill-opacity="0.75"/>
<circle cx="360.8" cy="141.2" r="4.70" fill="url(#gPt)"/>
<circle cx="359.9" cy="139.5" r="0.75" fill="#d8f4ff" fill-opacity="0.9"/>
<circle cx="361.4" cy="142.3" r="0.65" fill="#c8ecff" fill-opacity="0.75"/>
<circle cx="414.1" cy="104.1" r="4.90" fill="url(#gPt)"/>
<circle cx="413.2" cy="102.4" r="0.75" fill="#d8f4ff" fill-opacity="0.9"/>
<circle cx="414.7" cy="105.2" r="0.65" fill="#c8ecff" fill-opacity="0.75"/>
<circle cx="390.6" cy="130.0" r="4.70" fill="url(#gPt)"/>
<circle cx="389.7" cy="128.3" r="0.75" fill="#d8f4ff" fill-opacity="0.9"/>
<circle cx="391.2" cy="131.1" r="0.65" fill="#c8ecff" fill-opacity="0.75"/>
<circle cx="351.6" cy="141.4" r="4.70" fill="url(#gPt)"/>
<circle cx="350.8" cy="139.7" r="0.75" fill="#d8f4ff" fill-opacity="0.9"/>
<circle cx="352.2" cy="142.5" r="0.65" fill="#c8ecff" fill-opacity="0.75"/>
<circle cx="317.0" cy="130.2" r="4.70" fill="url(#gPt)"/>
<circle cx="316.1" cy="128.5" r="0.75" fill="#d8f4ff" fill-opacity="0.9"/>
<circle cx="317.6" cy="131.3" r="0.65" fill="#c8ecff" fill-opacity="0.75"/>
<circle cx="384.2" cy="12.2" r="4.90" fill="url(#gPt)"/>
<circle cx="383.3" cy="10.5" r="0.75" fill="#d8f4ff" fill-opacity="0.9"/>
<circle cx="384.8" cy="13.3" r="0.65" fill="#c8ecff" fill-opacity="0.75"/>
<circle cx="310.4" cy="20.0" r="4.90" fill="url(#gPt)"/>
<circle cx="309.5" cy="18.3" r="0.75" fill="#d8f4ff" fill-opacity="0.9"/>
<circle cx="311.0" cy="21.1" r="0.65" fill="#c8ecff" fill-opacity="0.75"/>
<circle cx="360.4" cy="5.6" r="4.90" fill="url(#gPt)"/>
<circle cx="359.5" cy="3.9" r="0.75" fill="#d8f4ff" fill-opacity="0.9"/>
<circle cx="361.0" cy="6.7" r="0.65" fill="#c8ecff" fill-opacity="0.75"/>
<circle cx="418.1" cy="93.9" r="4.90" fill="url(#gPt)"/>
<circle cx="417.2" cy="92.2" r="0.75" fill="#d8f4ff" fill-opacity="0.9"/>
<circle cx="418.7" cy="95.0" r="0.65" fill="#c8ecff" fill-opacity="0.75"/>
<circle cx="331.3" cy="136.8" r="4.70" fill="url(#gPt)"/>
<circle cx="330.4" cy="135.1" r="0.75" fill="#d8f4ff" fill-opacity="0.9"/>
<circle cx="331.9" cy="137.9" r="0.65" fill="#c8ecff" fill-opacity="0.75"/>
<circle cx="351.0" cy="5.6" r="4.90" fill="url(#gPt)"/>
<circle cx="350.1" cy="3.9" r="0.75" fill="#d8f4ff" fill-opacity="0.9"/>
<circle cx="351.6" cy="6.7" r="0.65" fill="#c8ecff" fill-opacity="0.75"/>
<circle cx="389.0" cy="130.2" r="4.70" fill="url(#gPt)"/>
<circle cx="388.1" cy="128.5" r="0.75" fill="#d8f4ff" fill-opacity="0.9"/>
<circle cx="389.6" cy="131.3" r="0.65" fill="#c8ecff" fill-opacity="0.75"/>
<circle cx="323.7" cy="12.2" r="4.90" fill="url(#gPt)"/>
<circle cx="322.8" cy="10.5" r="0.75" fill="#d8f4ff" fill-opacity="0.9"/>
<circle cx="324.3" cy="13.3" r="0.65" fill="#c8ecff" fill-opacity="0.75"/>
<circle cx="284.9" cy="64.8" r="4.90" fill="url(#gPt)"/>
<circle cx="284.0" cy="63.1" r="0.75" fill="#d8f4ff" fill-opacity="0.9"/>
<circle cx="285.5" cy="65.9" r="0.65" fill="#c8ecff" fill-opacity="0.75"/>
<circle cx="397.6" cy="123.8" r="4.70" fill="url(#gPt)"/>
<circle cx="396.7" cy="122.1" r="0.75" fill="#d8f4ff" fill-opacity="0.9"/>
<circle cx="398.2" cy="124.9" r="0.65" fill="#c8ecff" fill-opacity="0.75"/>
<circle cx="413.0" cy="104.3" r="4.90" fill="url(#gPt)"/>
<circle cx="412.1" cy="102.6" r="0.75" fill="#d8f4ff" fill-opacity="0.9"/>
<circle cx="413.6" cy="105.4" r="0.65" fill="#c8ecff" fill-opacity="0.75"/>
<circle cx="284.9" cy="74.1" r="4.90" fill="url(#gPt)"/>
<circle cx="284.0" cy="72.4" r="0.75" fill="#d8f4ff" fill-opacity="0.9"/>
<circle cx="285.5" cy="75.2" r="0.65" fill="#c8ecff" fill-opacity="0.75"/>
<circle cx="405.6" cy="115.8" r="4.90" fill="url(#gPt)"/>
<circle cx="404.7" cy="114.1" r="0.75" fill="#d8f4ff" fill-opacity="0.9"/>
<circle cx="406.2" cy="116.9" r="0.65" fill="#c8ecff" fill-opacity="0.75"/>
<circle cx="311.3" cy="20.0" r="4.90" fill="url(#gPt)"/>
<circle cx="310.4" cy="18.3" r="0.75" fill="#d8f4ff" fill-opacity="0.9"/>
<circle cx="311.9" cy="21.1" r="0.65" fill="#c8ecff" fill-opacity="0.75"/>
<circle cx="285.1" cy="64.8" r="4.90" fill="url(#gPt)"/>
<circle cx="284.2" cy="63.1" r="0.75" fill="#d8f4ff" fill-opacity="0.9"/>
<circle cx="285.7" cy="65.9" r="0.65" fill="#c8ecff" fill-opacity="0.75"/>
<circle cx="286.4" cy="83.8" r="4.90" fill="url(#gPt)"/>
<circle cx="285.5" cy="82.1" r="0.75" fill="#d8f4ff" fill-opacity="0.9"/>
<circle cx="287.0" cy="84.9" r="0.65" fill="#c8ecff" fill-opacity="0.75"/>
<circle cx="420.6" cy="83.8" r="4.90" fill="url(#gPt)"/>
<circle cx="419.7" cy="82.1" r="0.75" fill="#d8f4ff" fill-opacity="0.9"/>
<circle cx="421.2" cy="84.9" r="0.65" fill="#c8ecff" fill-opacity="0.75"/>
<circle cx="397.1" cy="123.9" r="4.70" fill="url(#gPt)"/>
<circle cx="396.2" cy="122.2" r="0.75" fill="#d8f4ff" fill-opacity="0.9"/>
<circle cx="397.7" cy="125.0" r="0.65" fill="#c8ecff" fill-opacity="0.75"/>
<circle cx="309.9" cy="123.8" r="4.70" fill="url(#gPt)"/>
<circle cx="309.0" cy="122.1" r="0.75" fill="#d8f4ff" fill-opacity="0.9"/>
<circle cx="310.5" cy="124.9" r="0.65" fill="#c8ecff" fill-opacity="0.75"/>
<circle cx="373.9" cy="136.8" r="4.70" fill="url(#gPt)"/>
<circle cx="373.0" cy="135.1" r="0.75" fill="#d8f4ff" fill-opacity="0.9"/>
<circle cx="374.5" cy="137.9" r="0.65" fill="#c8ecff" fill-opacity="0.75"/>
<circle cx="286.9" cy="55.4" r="4.90" fill="url(#gPt)"/>
<circle cx="286.0" cy="53.7" r="0.75" fill="#d8f4ff" fill-opacity="0.9"/>
<circle cx="287.5" cy="56.5" r="0.65" fill="#c8ecff" fill-opacity="0.75"/>
<circle cx="310.4" cy="123.9" r="4.70" fill="url(#gPt)"/>
<circle cx="309.5" cy="122.2" r="0.75" fill="#d8f4ff" fill-opacity="0.9"/>
<circle cx="311.0" cy="125.0" r="0.65" fill="#c8ecff" fill-opacity="0.75"/>
<circle cx="301.9" cy="29.5" r="4.90" fill="url(#gPt)"/>
<circle cx="301.0" cy="27.8" r="0.75" fill="#d8f4ff" fill-opacity="0.9"/>
<circle cx="302.5" cy="30.6" r="0.65" fill="#c8ecff" fill-opacity="0.75"/>
<circle cx="289.9" cy="93.9" r="4.90" fill="url(#gPt)"/>
<circle cx="289.0" cy="92.2" r="0.75" fill="#d8f4ff" fill-opacity="0.9"/>
<circle cx="290.5" cy="95.0" r="0.65" fill="#c8ecff" fill-opacity="0.75"/>
<circle cx="394.6" cy="20.0" r="4.90" fill="url(#gPt)"/>
<circle cx="393.7" cy="18.3" r="0.75" fill="#d8f4ff" fill-opacity="0.9"/>
<circle cx="395.2" cy="21.1" r="0.65" fill="#c8ecff" fill-opacity="0.75"/>
<circle cx="287.2" cy="55.4" r="4.90" fill="url(#gPt)"/>
<circle cx="286.3" cy="53.7" r="0.75" fill="#d8f4ff" fill-opacity="0.9"/>
<circle cx="287.8" cy="56.5" r="0.65" fill="#c8ecff" fill-opacity="0.75"/>
<circle cx="285.8" cy="74.3" r="4.90" fill="url(#gPt)"/>
<circle cx="284.9" cy="72.6" r="0.75" fill="#d8f4ff" fill-opacity="0.9"/>
<circle cx="286.4" cy="75.4" r="0.65" fill="#c8ecff" fill-opacity="0.75"/>
<circle cx="302.3" cy="29.5" r="4.90" fill="url(#gPt)"/>
<circle cx="301.4" cy="27.8" r="0.75" fill="#d8f4ff" fill-opacity="0.9"/>
<circle cx="302.9" cy="30.6" r="0.65" fill="#c8ecff" fill-opacity="0.75"/>
<circle cx="421.1" cy="74.1" r="4.90" fill="url(#gPt)"/>
<circle cx="420.2" cy="72.4" r="0.75" fill="#d8f4ff" fill-opacity="0.9"/>
<circle cx="421.7" cy="75.2" r="0.65" fill="#c8ecff" fill-opacity="0.75"/>
<circle cx="295.4" cy="36.5" r="4.90" fill="url(#gPt)"/>
<circle cx="294.5" cy="34.8" r="0.75" fill="#d8f4ff" fill-opacity="0.9"/>
<circle cx="296.0" cy="37.6" r="0.65" fill="#c8ecff" fill-opacity="0.75"/>
<circle cx="380.3" cy="12.2" r="4.90" fill="url(#gPt)"/>
<circle cx="379.4" cy="10.5" r="0.75" fill="#d8f4ff" fill-opacity="0.9"/>
<circle cx="380.9" cy="13.3" r="0.65" fill="#c8ecff" fill-opacity="0.75"/>
<circle cx="295.4" cy="104.1" r="4.90" fill="url(#gPt)"/>
<circle cx="294.5" cy="102.4" r="0.75" fill="#d8f4ff" fill-opacity="0.9"/>
<circle cx="296.0" cy="105.2" r="0.65" fill="#c8ecff" fill-opacity="0.75"/>
<circle cx="416.5" cy="94.2" r="4.90" fill="url(#gPt)"/>
<circle cx="415.6" cy="92.5" r="0.75" fill="#d8f4ff" fill-opacity="0.9"/>
<circle cx="417.1" cy="95.3" r="0.65" fill="#c8ecff" fill-opacity="0.75"/>
<circle cx="404.0" cy="115.9" r="4.90" fill="url(#gPt)"/>
<circle cx="403.1" cy="114.2" r="0.75" fill="#d8f4ff" fill-opacity="0.9"/>
<circle cx="404.6" cy="117.0" r="0.65" fill="#c8ecff" fill-opacity="0.75"/>
<circle cx="393.7" cy="20.0" r="4.90" fill="url(#gPt)"/>
<circle cx="392.8" cy="18.3" r="0.75" fill="#d8f4ff" fill-opacity="0.9"/>
<circle cx="394.3" cy="21.1" r="0.65" fill="#c8ecff" fill-opacity="0.75"/>
<circle cx="320.9" cy="130.5" r="4.70" fill="url(#gPt)"/>
<circle cx="320.0" cy="128.8" r="0.75" fill="#d8f4ff" fill-opacity="0.9"/>
<circle cx="321.5" cy="131.6" r="0.65" fill="#c8ecff" fill-opacity="0.75"/>
<circle cx="290.9" cy="45.8" r="4.90" fill="url(#gPt)"/>
<circle cx="290.0" cy="44.1" r="0.75" fill="#d8f4ff" fill-opacity="0.9"/>
<circle cx="291.5" cy="46.9" r="0.65" fill="#c8ecff" fill-opacity="0.75"/>
<circle cx="286.6" cy="65.1" r="4.90" fill="url(#gPt)"/>
<circle cx="285.7" cy="63.4" r="0.75" fill="#d8f4ff" fill-opacity="0.9"/>
<circle cx="287.2" cy="66.2" r="0.65" fill="#c8ecff" fill-opacity="0.75"/>
<circle cx="287.9" cy="84.0" r="4.90" fill="url(#gPt)"/>
<circle cx="287.0" cy="82.3" r="0.75" fill="#d8f4ff" fill-opacity="0.9"/>
<circle cx="288.5" cy="85.1" r="0.65" fill="#c8ecff" fill-opacity="0.75"/>
<circle cx="419.1" cy="84.0" r="4.90" fill="url(#gPt)"/>
<circle cx="418.2" cy="82.3" r="0.75" fill="#d8f4ff" fill-opacity="0.9"/>
<circle cx="419.7" cy="85.1" r="0.65" fill="#c8ecff" fill-opacity="0.75"/>
<circle cx="394.7" cy="124.0" r="4.70" fill="url(#gPt)"/>
<circle cx="393.8" cy="122.3" r="0.75" fill="#d8f4ff" fill-opacity="0.9"/>
<circle cx="395.3" cy="125.1" r="0.65" fill="#c8ecff" fill-opacity="0.75"/>
<circle cx="385.1" cy="130.5" r="4.70" fill="url(#gPt)"/>
<circle cx="384.2" cy="128.8" r="0.75" fill="#d8f4ff" fill-opacity="0.9"/>
<circle cx="385.7" cy="131.6" r="0.65" fill="#c8ecff" fill-opacity="0.75"/>
<circle cx="338.8" cy="137.2" r="4.70" fill="url(#gPt)"/>
<circle cx="337.9" cy="135.5" r="0.75" fill="#d8f4ff" fill-opacity="0.9"/>
<circle cx="339.4" cy="138.3" r="0.65" fill="#c8ecff" fill-opacity="0.75"/>
<circle cx="314.2" cy="20.0" r="4.90" fill="url(#gPt)"/>
<circle cx="313.3" cy="18.3" r="0.75" fill="#d8f4ff" fill-opacity="0.9"/>
<circle cx="314.8" cy="21.1" r="0.65" fill="#c8ecff" fill-opacity="0.75"/>
<circle cx="420.2" cy="74.3" r="4.90" fill="url(#gPt)"/>
<circle cx="419.3" cy="72.6" r="0.75" fill="#d8f4ff" fill-opacity="0.9"/>
<circle cx="420.8" cy="75.4" r="0.65" fill="#c8ecff" fill-opacity="0.75"/>
<circle cx="420.1" cy="64.8" r="4.90" fill="url(#gPt)"/>
<circle cx="419.2" cy="63.1" r="0.75" fill="#d8f4ff" fill-opacity="0.9"/>
<circle cx="420.7" cy="65.9" r="0.65" fill="#c8ecff" fill-opacity="0.75"/>
<circle cx="303.9" cy="115.8" r="4.90" fill="url(#gPt)"/>
<circle cx="303.0" cy="114.1" r="0.75" fill="#d8f4ff" fill-opacity="0.9"/>
<circle cx="304.5" cy="116.9" r="0.65" fill="#c8ecff" fill-opacity="0.75"/>
<circle cx="312.8" cy="124.0" r="4.70" fill="url(#gPt)"/>
<circle cx="311.9" cy="122.3" r="0.75" fill="#d8f4ff" fill-opacity="0.9"/>
<circle cx="313.4" cy="125.1" r="0.65" fill="#c8ecff" fill-opacity="0.75"/>
<circle cx="296.6" cy="36.7" r="4.90" fill="url(#gPt)"/>
<circle cx="295.7" cy="35.0" r="0.75" fill="#d8f4ff" fill-opacity="0.9"/>
<circle cx="297.2" cy="37.8" r="0.65" fill="#c8ecff" fill-opacity="0.75"/>
<circle cx="296.5" cy="104.3" r="4.90" fill="url(#gPt)"/>
<circle cx="295.6" cy="102.6" r="0.75" fill="#d8f4ff" fill-opacity="0.9"/>
<circle cx="297.1" cy="105.4" r="0.65" fill="#c8ecff" fill-opacity="0.75"/>
<circle cx="291.5" cy="94.2" r="4.90" fill="url(#gPt)"/>
<circle cx="290.6" cy="92.5" r="0.75" fill="#d8f4ff" fill-opacity="0.9"/>
<circle cx="292.1" cy="95.3" r="0.65" fill="#c8ecff" fill-opacity="0.75"/>
<circle cx="419.9" cy="64.8" r="4.90" fill="url(#gPt)"/>
<circle cx="419.0" cy="63.1" r="0.75" fill="#d8f4ff" fill-opacity="0.9"/>
<circle cx="420.5" cy="65.9" r="0.65" fill="#c8ecff" fill-opacity="0.75"/>
<circle cx="366.4" cy="137.2" r="4.70" fill="url(#gPt)"/>
<circle cx="365.5" cy="135.5" r="0.75" fill="#d8f4ff" fill-opacity="0.9"/>
<circle cx="367.0" cy="138.3" r="0.65" fill="#c8ecff" fill-opacity="0.75"/>
<circle cx="410.3" cy="104.8" r="4.90" fill="url(#gPt)"/>
<circle cx="409.4" cy="103.1" r="0.75" fill="#d8f4ff" fill-opacity="0.9"/>
<circle cx="410.9" cy="105.9" r="0.65" fill="#c8ecff" fill-opacity="0.75"/>
<circle cx="330.0" cy="12.2" r="4.90" fill="url(#gPt)"/>
<circle cx="329.1" cy="10.5" r="0.75" fill="#d8f4ff" fill-opacity="0.9"/>
<circle cx="330.6" cy="13.3" r="0.65" fill="#c8ecff" fill-opacity="0.75"/>
<circle cx="288.9" cy="55.7" r="4.90" fill="url(#gPt)"/>
<circle cx="288.0" cy="54.0" r="0.75" fill="#d8f4ff" fill-opacity="0.9"/>
<circle cx="289.5" cy="56.8" r="0.65" fill="#c8ecff" fill-opacity="0.75"/>
<circle cx="304.5" cy="29.5" r="4.90" fill="url(#gPt)"/>
<circle cx="303.6" cy="27.8" r="0.75" fill="#d8f4ff" fill-opacity="0.9"/>
<circle cx="305.1" cy="30.6" r="0.65" fill="#c8ecff" fill-opacity="0.75"/>
<circle cx="292.6" cy="46.0" r="4.90" fill="url(#gPt)"/>
<circle cx="291.7" cy="44.3" r="0.75" fill="#d8f4ff" fill-opacity="0.9"/>
<circle cx="293.2" cy="47.1" r="0.65" fill="#c8ecff" fill-opacity="0.75"/>
<circle cx="402.1" cy="29.5" r="4.90" fill="url(#gPt)"/>
<circle cx="401.2" cy="27.8" r="0.75" fill="#d8f4ff" fill-opacity="0.9"/>
<circle cx="402.7" cy="30.6" r="0.65" fill="#c8ecff" fill-opacity="0.75"/>
<circle cx="417.6" cy="55.4" r="4.90" fill="url(#gPt)"/>
<circle cx="416.7" cy="53.7" r="0.75" fill="#d8f4ff" fill-opacity="0.9"/>
<circle cx="418.2" cy="56.5" r="0.65" fill="#c8ecff" fill-opacity="0.75"/>
<circle cx="390.8" cy="20.0" r="4.90" fill="url(#gPt)"/>
<circle cx="389.9" cy="18.3" r="0.75" fill="#d8f4ff" fill-opacity="0.9"/>
<circle cx="391.4" cy="21.1" r="0.65" fill="#c8ecff" fill-opacity="0.75"/>
<circle cx="288.0" cy="74.7" r="4.90" fill="url(#gPt)"/>
<circle cx="287.1" cy="73.0" r="0.75" fill="#d8f4ff" fill-opacity="0.9"/>
<circle cx="288.6" cy="75.8" r="0.65" fill="#c8ecff" fill-opacity="0.75"/>
<circle cx="305.5" cy="115.9" r="4.90" fill="url(#gPt)"/>
<circle cx="304.6" cy="114.2" r="0.75" fill="#d8f4ff" fill-opacity="0.9"/>
<circle cx="306.1" cy="117.0" r="0.65" fill="#c8ecff" fill-opacity="0.75"/>
<circle cx="401.7" cy="29.5" r="4.90" fill="url(#gPt)"/>
<circle cx="400.8" cy="27.8" r="0.75" fill="#d8f4ff" fill-opacity="0.9"/>
<circle cx="402.3" cy="30.6" r="0.65" fill="#c8ecff" fill-opacity="0.75"/>
<circle cx="347.8" cy="137.4" r="4.70" fill="url(#gPt)"/>
<circle cx="346.9" cy="135.7" r="0.75" fill="#d8f4ff" fill-opacity="0.9"/>
<circle cx="348.4" cy="138.5" r="0.65" fill="#c8ecff" fill-opacity="0.75"/>
<circle cx="417.3" cy="55.4" r="4.90" fill="url(#gPt)"/>
<circle cx="416.4" cy="53.7" r="0.75" fill="#d8f4ff" fill-opacity="0.9"/>
<circle cx="417.9" cy="56.5" r="0.65" fill="#c8ecff" fill-opacity="0.75"/>
<circle cx="374.0" cy="12.2" r="4.90" fill="url(#gPt)"/>
<circle cx="373.1" cy="10.5" r="0.75" fill="#d8f4ff" fill-opacity="0.9"/>
<circle cx="374.6" cy="13.3" r="0.65" fill="#c8ecff" fill-opacity="0.75"/>
<circle cx="357.4" cy="137.4" r="4.70" fill="url(#gPt)"/>
<circle cx="356.5" cy="135.7" r="0.75" fill="#d8f4ff" fill-opacity="0.9"/>
<circle cx="358.0" cy="138.5" r="0.65" fill="#c8ecff" fill-opacity="0.75"/>
<circle cx="418.4" cy="65.1" r="4.90" fill="url(#gPt)"/>
<circle cx="417.5" cy="63.4" r="0.75" fill="#d8f4ff" fill-opacity="0.9"/>
<circle cx="419.0" cy="66.2" r="0.65" fill="#c8ecff" fill-opacity="0.75"/>
<circle cx="400.8" cy="116.1" r="4.90" fill="url(#gPt)"/>
<circle cx="399.9" cy="114.4" r="0.75" fill="#d8f4ff" fill-opacity="0.9"/>
<circle cx="401.4" cy="117.2" r="0.65" fill="#c8ecff" fill-opacity="0.75"/>
<circle cx="413.7" cy="94.7" r="4.90" fill="url(#gPt)"/>
<circle cx="412.8" cy="93.0" r="0.75" fill="#d8f4ff" fill-opacity="0.9"/>
<circle cx="414.3" cy="95.8" r="0.65" fill="#c8ecff" fill-opacity="0.75"/>
<circle cx="326.9" cy="130.8" r="4.70" fill="url(#gPt)"/>
<circle cx="326.0" cy="129.1" r="0.75" fill="#d8f4ff" fill-opacity="0.9"/>
<circle cx="327.5" cy="131.9" r="0.65" fill="#c8ecff" fill-opacity="0.75"/>
<circle cx="408.1" cy="36.5" r="4.90" fill="url(#gPt)"/>
<circle cx="407.2" cy="34.8" r="0.75" fill="#d8f4ff" fill-opacity="0.9"/>
<circle cx="408.7" cy="37.6" r="0.65" fill="#c8ecff" fill-opacity="0.75"/>
<circle cx="418.0" cy="74.7" r="4.90" fill="url(#gPt)"/>
<circle cx="417.1" cy="73.0" r="0.75" fill="#d8f4ff" fill-opacity="0.9"/>
<circle cx="418.6" cy="75.8" r="0.65" fill="#c8ecff" fill-opacity="0.75"/>
<circle cx="413.1" cy="45.8" r="4.90" fill="url(#gPt)"/>
<circle cx="412.2" cy="44.1" r="0.75" fill="#d8f4ff" fill-opacity="0.9"/>
<circle cx="413.7" cy="46.9" r="0.65" fill="#c8ecff" fill-opacity="0.75"/>
<circle cx="290.6" cy="84.5" r="4.90" fill="url(#gPt)"/>
<circle cx="289.7" cy="82.8" r="0.75" fill="#d8f4ff" fill-opacity="0.9"/>
<circle cx="291.2" cy="85.6" r="0.65" fill="#c8ecff" fill-opacity="0.75"/>
<circle cx="416.4" cy="84.5" r="4.90" fill="url(#gPt)"/>
<circle cx="415.5" cy="82.8" r="0.75" fill="#d8f4ff" fill-opacity="0.9"/>
<circle cx="417.0" cy="85.6" r="0.65" fill="#c8ecff" fill-opacity="0.75"/>
<circle cx="289.3" cy="65.5" r="4.90" fill="url(#gPt)"/>
<circle cx="288.4" cy="63.8" r="0.75" fill="#d8f4ff" fill-opacity="0.9"/>
<circle cx="289.9" cy="66.6" r="0.65" fill="#c8ecff" fill-opacity="0.75"/>
<circle cx="299.2" cy="104.8" r="4.90" fill="url(#gPt)"/>
<circle cx="298.3" cy="103.1" r="0.75" fill="#d8f4ff" fill-opacity="0.9"/>
<circle cx="299.8" cy="105.9" r="0.65" fill="#c8ecff" fill-opacity="0.75"/>
<circle cx="390.3" cy="124.4" r="4.70" fill="url(#gPt)"/>
<circle cx="389.4" cy="122.7" r="0.75" fill="#d8f4ff" fill-opacity="0.9"/>
<circle cx="390.9" cy="125.5" r="0.65" fill="#c8ecff" fill-opacity="0.75"/>
<circle cx="379.1" cy="130.8" r="4.70" fill="url(#gPt)"/>
<circle cx="378.2" cy="129.1" r="0.75" fill="#d8f4ff" fill-opacity="0.9"/>
<circle cx="379.7" cy="131.9" r="0.65" fill="#c8ecff" fill-opacity="0.75"/>
<circle cx="299.4" cy="37.2" r="4.90" fill="url(#gPt)"/>
<circle cx="298.5" cy="35.5" r="0.75" fill="#d8f4ff" fill-opacity="0.9"/>
<circle cx="300.0" cy="38.3" r="0.65" fill="#c8ecff" fill-opacity="0.75"/>
<circle cx="319.2" cy="20.0" r="4.90" fill="url(#gPt)"/>
<circle cx="318.3" cy="18.3" r="0.75" fill="#d8f4ff" fill-opacity="0.9"/>
<circle cx="319.8" cy="21.1" r="0.65" fill="#c8ecff" fill-opacity="0.75"/>
<circle cx="317.2" cy="124.4" r="4.70" fill="url(#gPt)"/>
<circle cx="316.3" cy="122.7" r="0.75" fill="#d8f4ff" fill-opacity="0.9"/>
<circle cx="317.8" cy="125.5" r="0.65" fill="#c8ecff" fill-opacity="0.75"/>
<circle cx="294.3" cy="94.7" r="4.90" fill="url(#gPt)"/>
<circle cx="293.4" cy="93.0" r="0.75" fill="#d8f4ff" fill-opacity="0.9"/>
<circle cx="294.9" cy="95.8" r="0.65" fill="#c8ecff" fill-opacity="0.75"/>
<circle cx="338.0" cy="12.2" r="4.90" fill="url(#gPt)"/>
<circle cx="337.1" cy="10.5" r="0.75" fill="#d8f4ff" fill-opacity="0.9"/>
<circle cx="338.6" cy="13.3" r="0.65" fill="#c8ecff" fill-opacity="0.75"/>
<circle cx="399.5" cy="29.5" r="4.90" fill="url(#gPt)"/>
<circle cx="398.6" cy="27.8" r="0.75" fill="#d8f4ff" fill-opacity="0.9"/>
<circle cx="400.1" cy="30.6" r="0.65" fill="#c8ecff" fill-opacity="0.75"/>
<circle cx="415.6" cy="55.7" r="4.90" fill="url(#gPt)"/>
<circle cx="414.7" cy="54.0" r="0.75" fill="#d8f4ff" fill-opacity="0.9"/>
<circle cx="416.2" cy="56.8" r="0.65" fill="#c8ecff" fill-opacity="0.75"/>
<circle cx="406.9" cy="36.7" r="4.90" fill="url(#gPt)"/>
<circle cx="406.0" cy="35.0" r="0.75" fill="#d8f4ff" fill-opacity="0.9"/>
<circle cx="407.5" cy="37.8" r="0.65" fill="#c8ecff" fill-opacity="0.75"/>
<circle cx="291.9" cy="56.2" r="4.90" fill="url(#gPt)"/>
<circle cx="291.0" cy="54.5" r="0.75" fill="#d8f4ff" fill-opacity="0.9"/>
<circle cx="292.5" cy="57.3" r="0.65" fill="#c8ecff" fill-opacity="0.75"/>
<circle cx="366.0" cy="12.2" r="4.90" fill="url(#gPt)"/>
<circle cx="365.1" cy="10.5" r="0.75" fill="#d8f4ff" fill-opacity="0.9"/>
<circle cx="366.6" cy="13.3" r="0.65" fill="#c8ecff" fill-opacity="0.75"/>
<circle cx="308.7" cy="116.1" r="4.90" fill="url(#gPt)"/>
<circle cx="307.8" cy="114.4" r="0.75" fill="#d8f4ff" fill-opacity="0.9"/>
<circle cx="309.3" cy="117.2" r="0.65" fill="#c8ecff" fill-opacity="0.75"/>
<circle cx="308.4" cy="29.5" r="4.90" fill="url(#gPt)"/>
<circle cx="307.5" cy="27.8" r="0.75" fill="#d8f4ff" fill-opacity="0.9"/>
<circle cx="309.0" cy="30.6" r="0.65" fill="#c8ecff" fill-opacity="0.75"/>
<circle cx="295.5" cy="46.6" r="4.90" fill="url(#gPt)"/>
<circle cx="294.6" cy="44.9" r="0.75" fill="#d8f4ff" fill-opacity="0.9"/>
<circle cx="296.1" cy="47.7" r="0.65" fill="#c8ecff" fill-opacity="0.75"/>
<circle cx="411.4" cy="46.0" r="4.90" fill="url(#gPt)"/>
<circle cx="410.5" cy="44.3" r="0.75" fill="#d8f4ff" fill-opacity="0.9"/>
<circle cx="412.0" cy="47.1" r="0.65" fill="#c8ecff" fill-opacity="0.75"/>
<circle cx="406.3" cy="105.4" r="4.90" fill="url(#gPt)"/>
<circle cx="405.4" cy="103.7" r="0.75" fill="#d8f4ff" fill-opacity="0.9"/>
<circle cx="406.9" cy="106.5" r="0.65" fill="#c8ecff" fill-opacity="0.75"/>
<circle cx="385.8" cy="20.0" r="4.90" fill="url(#gPt)"/>
<circle cx="384.9" cy="18.3" r="0.75" fill="#d8f4ff" fill-opacity="0.9"/>
<circle cx="386.4" cy="21.1" r="0.65" fill="#c8ecff" fill-opacity="0.75"/>
<circle cx="347.2" cy="12.2" r="4.90" fill="url(#gPt)"/>
<circle cx="346.3" cy="10.5" r="0.75" fill="#d8f4ff" fill-opacity="0.9"/>
<circle cx="347.8" cy="13.3" r="0.65" fill="#c8ecff" fill-opacity="0.75"/>
<circle cx="415.7" cy="65.5" r="4.90" fill="url(#gPt)"/>
<circle cx="414.8" cy="63.8" r="0.75" fill="#d8f4ff" fill-opacity="0.9"/>
<circle cx="416.3" cy="66.6" r="0.65" fill="#c8ecff" fill-opacity="0.75"/>
<circle cx="356.8" cy="12.2" r="4.90" fill="url(#gPt)"/>
<circle cx="355.9" cy="10.5" r="0.75" fill="#d8f4ff" fill-opacity="0.9"/>
<circle cx="357.4" cy="13.3" r="0.65" fill="#c8ecff" fill-opacity="0.75"/>
<circle cx="291.5" cy="75.3" r="4.90" fill="url(#gPt)"/>
<circle cx="290.6" cy="73.6" r="0.75" fill="#d8f4ff" fill-opacity="0.9"/>
<circle cx="292.1" cy="76.4" r="0.65" fill="#c8ecff" fill-opacity="0.75"/>
<circle cx="334.6" cy="131.2" r="4.70" fill="url(#gPt)"/>
<circle cx="333.7" cy="129.5" r="0.75" fill="#d8f4ff" fill-opacity="0.9"/>
<circle cx="335.2" cy="132.3" r="0.65" fill="#c8ecff" fill-opacity="0.75"/>
<circle cx="371.4" cy="131.2" r="4.70" fill="url(#gPt)"/>
<circle cx="370.5" cy="129.5" r="0.75" fill="#d8f4ff" fill-opacity="0.9"/>
<circle cx="372.0" cy="132.3" r="0.65" fill="#c8ecff" fill-opacity="0.75"/>
<circle cx="395.9" cy="116.5" r="4.90" fill="url(#gPt)"/>
<circle cx="395.0" cy="114.8" r="0.75" fill="#d8f4ff" fill-opacity="0.9"/>
<circle cx="396.5" cy="117.6" r="0.65" fill="#c8ecff" fill-opacity="0.75"/>
<circle cx="404.1" cy="37.2" r="4.90" fill="url(#gPt)"/>
<circle cx="403.2" cy="35.5" r="0.75" fill="#d8f4ff" fill-opacity="0.9"/>
<circle cx="404.7" cy="38.3" r="0.65" fill="#c8ecff" fill-opacity="0.75"/>
<circle cx="414.5" cy="75.3" r="4.90" fill="url(#gPt)"/>
<circle cx="413.6" cy="73.6" r="0.75" fill="#d8f4ff" fill-opacity="0.9"/>
<circle cx="415.1" cy="76.4" r="0.65" fill="#c8ecff" fill-opacity="0.75"/>
<circle cx="395.6" cy="29.5" r="4.90" fill="url(#gPt)"/>
<circle cx="394.7" cy="27.8" r="0.75" fill="#d8f4ff" fill-opacity="0.9"/>
<circle cx="396.2" cy="30.6" r="0.65" fill="#c8ecff" fill-opacity="0.75"/>
<circle cx="409.5" cy="95.4" r="4.90" fill="url(#gPt)"/>
<circle cx="408.6" cy="93.7" r="0.75" fill="#d8f4ff" fill-opacity="0.9"/>
<circle cx="410.1" cy="96.5" r="0.65" fill="#c8ecff" fill-opacity="0.75"/>
<circle cx="384.2" cy="124.7" r="4.70" fill="url(#gPt)"/>
<circle cx="383.3" cy="123.0" r="0.75" fill="#d8f4ff" fill-opacity="0.9"/>
<circle cx="384.8" cy="125.8" r="0.65" fill="#c8ecff" fill-opacity="0.75"/>
<circle cx="303.2" cy="105.4" r="4.90" fill="url(#gPt)"/>
<circle cx="302.3" cy="103.7" r="0.75" fill="#d8f4ff" fill-opacity="0.9"/>
<circle cx="303.8" cy="106.5" r="0.65" fill="#c8ecff" fill-opacity="0.75"/>
<circle cx="412.6" cy="56.2" r="4.90" fill="url(#gPt)"/>
<circle cx="411.7" cy="54.5" r="0.75" fill="#d8f4ff" fill-opacity="0.9"/>
<circle cx="413.2" cy="57.3" r="0.65" fill="#c8ecff" fill-opacity="0.75"/>
<circle cx="323.3" cy="124.7" r="4.70" fill="url(#gPt)"/>
<circle cx="322.4" cy="123.0" r="0.75" fill="#d8f4ff" fill-opacity="0.9"/>
<circle cx="323.9" cy="125.8" r="0.65" fill="#c8ecff" fill-opacity="0.75"/>
<circle cx="325.9" cy="20.0" r="4.90" fill="url(#gPt)"/>
<circle cx="325.0" cy="18.3" r="0.75" fill="#d8f4ff" fill-opacity="0.9"/>
<circle cx="326.5" cy="21.1" r="0.65" fill="#c8ecff" fill-opacity="0.75"/>
<circle cx="303.7" cy="37.8" r="4.90" fill="url(#gPt)"/>
<circle cx="302.8" cy="36.1" r="0.75" fill="#d8f4ff" fill-opacity="0.9"/>
<circle cx="304.3" cy="38.9" r="0.65" fill="#c8ecff" fill-opacity="0.75"/>
<circle cx="294.5" cy="85.2" r="4.90" fill="url(#gPt)"/>
<circle cx="293.6" cy="83.5" r="0.75" fill="#d8f4ff" fill-opacity="0.9"/>
<circle cx="295.1" cy="86.3" r="0.65" fill="#c8ecff" fill-opacity="0.75"/>
<circle cx="412.5" cy="85.2" r="4.90" fill="url(#gPt)"/>
<circle cx="411.6" cy="83.5" r="0.75" fill="#d8f4ff" fill-opacity="0.9"/>
<circle cx="413.1" cy="86.3" r="0.65" fill="#c8ecff" fill-opacity="0.75"/>
<circle cx="408.5" cy="46.6" r="4.90" fill="url(#gPt)"/>
<circle cx="407.6" cy="44.9" r="0.75" fill="#d8f4ff" fill-opacity="0.9"/>
<circle cx="409.1" cy="47.7" r="0.65" fill="#c8ecff" fill-opacity="0.75"/>
<circle cx="293.4" cy="66.2" r="4.90" fill="url(#gPt)"/>
<circle cx="292.5" cy="64.5" r="0.75" fill="#d8f4ff" fill-opacity="0.9"/>
<circle cx="294.0" cy="67.3" r="0.65" fill="#c8ecff" fill-opacity="0.75"/>
<circle cx="298.5" cy="95.4" r="4.90" fill="url(#gPt)"/>
<circle cx="297.6" cy="93.7" r="0.75" fill="#d8f4ff" fill-opacity="0.9"/>
<circle cx="299.1" cy="96.5" r="0.65" fill="#c8ecff" fill-opacity="0.75"/>
<circle cx="313.6" cy="116.5" r="4.90" fill="url(#gPt)"/>
<circle cx="312.7" cy="114.8" r="0.75" fill="#d8f4ff" fill-opacity="0.9"/>
<circle cx="314.2" cy="117.6" r="0.65" fill="#c8ecff" fill-opacity="0.75"/>
<circle cx="379.1" cy="20.0" r="4.90" fill="url(#gPt)"/>
<circle cx="378.2" cy="18.3" r="0.75" fill="#d8f4ff" fill-opacity="0.9"/>
<circle cx="379.7" cy="21.1" r="0.65" fill="#c8ecff" fill-opacity="0.75"/>
<circle cx="343.5" cy="131.5" r="4.70" fill="url(#gPt)"/>
<circle cx="342.6" cy="129.8" r="0.75" fill="#d8f4ff" fill-opacity="0.9"/>
<circle cx="344.1" cy="132.6" r="0.65" fill="#c8ecff" fill-opacity="0.75"/>
<circle cx="362.5" cy="131.5" r="4.70" fill="url(#gPt)"/>
<circle cx="361.6" cy="129.8" r="0.75" fill="#d8f4ff" fill-opacity="0.9"/>
<circle cx="363.1" cy="132.6" r="0.65" fill="#c8ecff" fill-opacity="0.75"/>
<circle cx="314.0" cy="29.5" r="4.90" fill="url(#gPt)"/>
<circle cx="313.1" cy="27.8" r="0.75" fill="#d8f4ff" fill-opacity="0.9"/>
<circle cx="314.6" cy="30.6" r="0.65" fill="#c8ecff" fill-opacity="0.75"/>
<circle cx="299.9" cy="47.3" r="4.90" fill="url(#gPt)"/>
<circle cx="299.0" cy="45.6" r="0.75" fill="#d8f4ff" fill-opacity="0.9"/>
<circle cx="300.5" cy="48.4" r="0.65" fill="#c8ecff" fill-opacity="0.75"/>
<circle cx="296.3" cy="56.9" r="4.90" fill="url(#gPt)"/>
<circle cx="295.4" cy="55.2" r="0.75" fill="#d8f4ff" fill-opacity="0.9"/>
<circle cx="296.9" cy="58.0" r="0.65" fill="#c8ecff" fill-opacity="0.75"/>
<circle cx="353.0" cy="131.6" r="4.70" fill="url(#gPt)"/>
<circle cx="352.1" cy="129.9" r="0.75" fill="#d8f4ff" fill-opacity="0.9"/>
<circle cx="353.6" cy="132.7" r="0.65" fill="#c8ecff" fill-opacity="0.75"/>
<circle cx="400.9" cy="106.2" r="4.90" fill="url(#gPt)"/>
<circle cx="400.0" cy="104.5" r="0.75" fill="#d8f4ff" fill-opacity="0.9"/>
<circle cx="401.5" cy="107.3" r="0.65" fill="#c8ecff" fill-opacity="0.75"/>
<circle cx="411.6" cy="66.2" r="4.90" fill="url(#gPt)"/>
<circle cx="410.7" cy="64.5" r="0.75" fill="#d8f4ff" fill-opacity="0.9"/>
<circle cx="412.2" cy="67.3" r="0.65" fill="#c8ecff" fill-opacity="0.75"/>
<circle cx="399.8" cy="37.8" r="4.90" fill="url(#gPt)"/>
<circle cx="398.9" cy="36.1" r="0.75" fill="#d8f4ff" fill-opacity="0.9"/>
<circle cx="400.4" cy="38.9" r="0.65" fill="#c8ecff" fill-opacity="0.75"/>
<circle cx="376.6" cy="125.1" r="4.70" fill="url(#gPt)"/>
<circle cx="375.7" cy="123.4" r="0.75" fill="#d8f4ff" fill-opacity="0.9"/>
<circle cx="377.2" cy="126.2" r="0.65" fill="#c8ecff" fill-opacity="0.75"/>
<circle cx="334.0" cy="20.0" r="4.90" fill="url(#gPt)"/>
<circle cx="333.1" cy="18.3" r="0.75" fill="#d8f4ff" fill-opacity="0.9"/>
<circle cx="334.6" cy="21.1" r="0.65" fill="#c8ecff" fill-opacity="0.75"/>
<circle cx="390.0" cy="29.5" r="4.90" fill="url(#gPt)"/>
<circle cx="389.1" cy="27.8" r="0.75" fill="#d8f4ff" fill-opacity="0.9"/>
<circle cx="390.6" cy="30.6" r="0.65" fill="#c8ecff" fill-opacity="0.75"/>
<circle cx="389.6" cy="116.9" r="4.90" fill="url(#gPt)"/>
<circle cx="388.7" cy="115.2" r="0.75" fill="#d8f4ff" fill-opacity="0.9"/>
<circle cx="390.2" cy="118.0" r="0.65" fill="#c8ecff" fill-opacity="0.75"/>
<circle cx="296.2" cy="76.0" r="4.90" fill="url(#gPt)"/>
<circle cx="295.3" cy="74.3" r="0.75" fill="#d8f4ff" fill-opacity="0.9"/>
<circle cx="296.8" cy="77.1" r="0.65" fill="#c8ecff" fill-opacity="0.75"/>
<circle cx="330.9" cy="125.1" r="4.70" fill="url(#gPt)"/>
<circle cx="330.0" cy="123.4" r="0.75" fill="#d8f4ff" fill-opacity="0.9"/>
<circle cx="331.5" cy="126.2" r="0.65" fill="#c8ecff" fill-opacity="0.75"/>
<circle cx="371.0" cy="20.0" r="4.90" fill="url(#gPt)"/>
<circle cx="370.1" cy="18.3" r="0.75" fill="#d8f4ff" fill-opacity="0.9"/>
<circle cx="371.6" cy="21.1" r="0.65" fill="#c8ecff" fill-opacity="0.75"/>
<circle cx="408.2" cy="56.9" r="4.90" fill="url(#gPt)"/>
<circle cx="407.3" cy="55.2" r="0.75" fill="#d8f4ff" fill-opacity="0.9"/>
<circle cx="408.8" cy="58.0" r="0.65" fill="#c8ecff" fill-opacity="0.75"/>
<circle cx="308.6" cy="106.2" r="4.90" fill="url(#gPt)"/>
<circle cx="307.7" cy="104.5" r="0.75" fill="#d8f4ff" fill-opacity="0.9"/>
<circle cx="309.2" cy="107.3" r="0.65" fill="#c8ecff" fill-opacity="0.75"/>
<circle cx="409.8" cy="76.0" r="4.90" fill="url(#gPt)"/>
<circle cx="408.9" cy="74.3" r="0.75" fill="#d8f4ff" fill-opacity="0.9"/>
<circle cx="410.4" cy="77.1" r="0.65" fill="#c8ecff" fill-opacity="0.75"/>
<circle cx="404.1" cy="47.3" r="4.90" fill="url(#gPt)"/>
<circle cx="403.2" cy="45.6" r="0.75" fill="#d8f4ff" fill-opacity="0.9"/>
<circle cx="404.7" cy="48.4" r="0.65" fill="#c8ecff" fill-opacity="0.75"/>
<circle cx="404.2" cy="96.2" r="4.90" fill="url(#gPt)"/>
<circle cx="403.3" cy="94.5" r="0.75" fill="#d8f4ff" fill-opacity="0.9"/>
<circle cx="404.8" cy="97.3" r="0.65" fill="#c8ecff" fill-opacity="0.75"/>
<circle cx="309.3" cy="38.7" r="4.90" fill="url(#gPt)"/>
<circle cx="308.4" cy="37.0" r="0.75" fill="#d8f4ff" fill-opacity="0.9"/>
<circle cx="309.9" cy="39.8" r="0.65" fill="#c8ecff" fill-opacity="0.75"/>
<circle cx="319.9" cy="116.9" r="4.90" fill="url(#gPt)"/>
<circle cx="319.0" cy="115.2" r="0.75" fill="#d8f4ff" fill-opacity="0.9"/>
<circle cx="320.5" cy="118.0" r="0.65" fill="#c8ecff" fill-opacity="0.75"/>
<circle cx="299.7" cy="85.9" r="4.90" fill="url(#gPt)"/>
<circle cx="298.8" cy="84.2" r="0.75" fill="#d8f4ff" fill-opacity="0.9"/>
<circle cx="300.3" cy="87.0" r="0.65" fill="#c8ecff" fill-opacity="0.75"/>
<circle cx="407.3" cy="85.9" r="4.90" fill="url(#gPt)"/>
<circle cx="406.4" cy="84.2" r="0.75" fill="#d8f4ff" fill-opacity="0.9"/>
<circle cx="407.9" cy="87.0" r="0.65" fill="#c8ecff" fill-opacity="0.75"/>
<circle cx="303.8" cy="96.2" r="4.90" fill="url(#gPt)"/>
<circle cx="302.9" cy="94.5" r="0.75" fill="#d8f4ff" fill-opacity="0.9"/>
<circle cx="304.4" cy="97.3" r="0.65" fill="#c8ecff" fill-opacity="0.75"/>
<circle cx="298.6" cy="67.0" r="4.90" fill="url(#gPt)"/>
<circle cx="297.7" cy="65.3" r="0.75" fill="#d8f4ff" fill-opacity="0.9"/>
<circle cx="299.2" cy="68.1" r="0.65" fill="#c8ecff" fill-opacity="0.75"/>
<circle cx="343.0" cy="20.0" r="4.90" fill="url(#gPt)"/>
<circle cx="342.1" cy="18.3" r="0.75" fill="#d8f4ff" fill-opacity="0.9"/>
<circle cx="343.6" cy="21.1" r="0.65" fill="#c8ecff" fill-opacity="0.75"/>
<circle cx="320.9" cy="29.5" r="4.90" fill="url(#gPt)"/>
<circle cx="320.0" cy="27.8" r="0.75" fill="#d8f4ff" fill-opacity="0.9"/>
<circle cx="321.5" cy="30.6" r="0.65" fill="#c8ecff" fill-opacity="0.75"/>
<circle cx="362.0" cy="20.0" r="4.90" fill="url(#gPt)"/>
<circle cx="361.1" cy="18.3" r="0.75" fill="#d8f4ff" fill-opacity="0.9"/>
<circle cx="362.6" cy="21.1" r="0.65" fill="#c8ecff" fill-opacity="0.75"/>
<circle cx="367.9" cy="125.4" r="4.70" fill="url(#gPt)"/>
<circle cx="367.0" cy="123.7" r="0.75" fill="#d8f4ff" fill-opacity="0.9"/>
<circle cx="368.5" cy="126.5" r="0.65" fill="#c8ecff" fill-opacity="0.75"/>
<circle cx="339.6" cy="125.4" r="4.70" fill="url(#gPt)"/>
<circle cx="338.7" cy="123.7" r="0.75" fill="#d8f4ff" fill-opacity="0.9"/>
<circle cx="340.2" cy="126.5" r="0.65" fill="#c8ecff" fill-opacity="0.75"/>
<circle cx="352.5" cy="20.0" r="4.90" fill="url(#gPt)"/>
<circle cx="351.6" cy="18.3" r="0.75" fill="#d8f4ff" fill-opacity="0.9"/>
<circle cx="353.1" cy="21.1" r="0.65" fill="#c8ecff" fill-opacity="0.75"/>
<circle cx="305.5" cy="48.1" r="4.90" fill="url(#gPt)"/>
<circle cx="304.6" cy="46.4" r="0.75" fill="#d8f4ff" fill-opacity="0.9"/>
<circle cx="306.1" cy="49.2" r="0.65" fill="#c8ecff" fill-opacity="0.75"/>
<circle cx="301.8" cy="57.7" r="4.90" fill="url(#gPt)"/>
<circle cx="300.9" cy="56.0" r="0.75" fill="#d8f4ff" fill-opacity="0.9"/>
<circle cx="302.4" cy="58.8" r="0.65" fill="#c8ecff" fill-opacity="0.75"/>
<circle cx="394.2" cy="38.7" r="4.90" fill="url(#gPt)"/>
<circle cx="393.3" cy="37.0" r="0.75" fill="#d8f4ff" fill-opacity="0.9"/>
<circle cx="394.8" cy="39.8" r="0.65" fill="#c8ecff" fill-opacity="0.75"/>
<circle cx="383.1" cy="29.5" r="4.90" fill="url(#gPt)"/>
<circle cx="382.2" cy="27.8" r="0.75" fill="#d8f4ff" fill-opacity="0.9"/>
<circle cx="383.7" cy="30.6" r="0.65" fill="#c8ecff" fill-opacity="0.75"/>
<circle cx="394.2" cy="107.1" r="4.90" fill="url(#gPt)"/>
<circle cx="393.3" cy="105.4" r="0.75" fill="#d8f4ff" fill-opacity="0.9"/>
<circle cx="394.8" cy="108.2" r="0.65" fill="#c8ecff" fill-opacity="0.75"/>
<circle cx="406.4" cy="67.0" r="4.90" fill="url(#gPt)"/>
<circle cx="405.5" cy="65.3" r="0.75" fill="#d8f4ff" fill-opacity="0.9"/>
<circle cx="407.0" cy="68.1" r="0.65" fill="#c8ecff" fill-opacity="0.75"/>
<circle cx="382.0" cy="117.2" r="4.90" fill="url(#gPt)"/>
<circle cx="381.1" cy="115.5" r="0.75" fill="#d8f4ff" fill-opacity="0.9"/>
<circle cx="382.6" cy="118.3" r="0.65" fill="#c8ecff" fill-opacity="0.75"/>
<circle cx="358.5" cy="125.6" r="4.70" fill="url(#gPt)"/>
<circle cx="357.6" cy="123.9" r="0.75" fill="#d8f4ff" fill-opacity="0.9"/>
<circle cx="359.1" cy="126.7" r="0.65" fill="#c8ecff" fill-opacity="0.75"/>
<circle cx="349.0" cy="125.6" r="4.70" fill="url(#gPt)"/>
<circle cx="348.1" cy="123.9" r="0.75" fill="#d8f4ff" fill-opacity="0.9"/>
<circle cx="349.6" cy="126.7" r="0.65" fill="#c8ecff" fill-opacity="0.75"/>
<circle cx="327.5" cy="117.2" r="4.90" fill="url(#gPt)"/>
<circle cx="326.6" cy="115.5" r="0.75" fill="#d8f4ff" fill-opacity="0.9"/>
<circle cx="328.1" cy="118.3" r="0.65" fill="#c8ecff" fill-opacity="0.75"/>
<circle cx="302.0" cy="76.8" r="4.90" fill="url(#gPt)"/>
<circle cx="301.1" cy="75.1" r="0.75" fill="#d8f4ff" fill-opacity="0.9"/>
<circle cx="302.6" cy="77.9" r="0.65" fill="#c8ecff" fill-opacity="0.75"/>
<circle cx="315.3" cy="107.1" r="4.90" fill="url(#gPt)"/>
<circle cx="314.4" cy="105.4" r="0.75" fill="#d8f4ff" fill-opacity="0.9"/>
<circle cx="315.9" cy="108.2" r="0.65" fill="#c8ecff" fill-opacity="0.75"/>
<circle cx="398.5" cy="48.1" r="4.90" fill="url(#gPt)"/>
<circle cx="397.6" cy="46.4" r="0.75" fill="#d8f4ff" fill-opacity="0.9"/>
<circle cx="399.1" cy="49.2" r="0.65" fill="#c8ecff" fill-opacity="0.75"/>
<circle cx="402.7" cy="57.7" r="4.90" fill="url(#gPt)"/>
<circle cx="401.8" cy="56.0" r="0.75" fill="#d8f4ff" fill-opacity="0.9"/>
<circle cx="403.3" cy="58.8" r="0.65" fill="#c8ecff" fill-opacity="0.75"/>
<circle cx="316.3" cy="39.5" r="4.90" fill="url(#gPt)"/>
<circle cx="315.4" cy="37.8" r="0.75" fill="#d8f4ff" fill-opacity="0.9"/>
<circle cx="316.9" cy="40.6" r="0.65" fill="#c8ecff" fill-opacity="0.75"/>
<circle cx="328.9" cy="29.5" r="4.90" fill="url(#gPt)"/>
<circle cx="328.0" cy="27.8" r="0.75" fill="#d8f4ff" fill-opacity="0.9"/>
<circle cx="329.5" cy="30.6" r="0.65" fill="#c8ecff" fill-opacity="0.75"/>
<circle cx="404.0" cy="76.8" r="4.90" fill="url(#gPt)"/>
<circle cx="403.1" cy="75.1" r="0.75" fill="#d8f4ff" fill-opacity="0.9"/>
<circle cx="404.6" cy="77.9" r="0.65" fill="#c8ecff" fill-opacity="0.75"/>
<circle cx="397.6" cy="97.0" r="4.90" fill="url(#gPt)"/>
<circle cx="396.7" cy="95.3" r="0.75" fill="#d8f4ff" fill-opacity="0.9"/>
<circle cx="398.2" cy="98.1" r="0.65" fill="#c8ecff" fill-opacity="0.75"/>
<circle cx="306.0" cy="86.8" r="4.90" fill="url(#gPt)"/>
<circle cx="305.1" cy="85.1" r="0.75" fill="#d8f4ff" fill-opacity="0.9"/>
<circle cx="306.6" cy="87.9" r="0.65" fill="#c8ecff" fill-opacity="0.75"/>
<circle cx="401.0" cy="86.8" r="4.90" fill="url(#gPt)"/>
<circle cx="400.1" cy="85.1" r="0.75" fill="#d8f4ff" fill-opacity="0.9"/>
<circle cx="401.6" cy="87.9" r="0.65" fill="#c8ecff" fill-opacity="0.75"/>
<circle cx="310.4" cy="97.0" r="4.90" fill="url(#gPt)"/>
<circle cx="309.5" cy="95.3" r="0.75" fill="#d8f4ff" fill-opacity="0.9"/>
<circle cx="311.0" cy="98.1" r="0.65" fill="#c8ecff" fill-opacity="0.75"/>
<circle cx="375.1" cy="29.5" r="4.90" fill="url(#gPt)"/>
<circle cx="374.2" cy="27.8" r="0.75" fill="#d8f4ff" fill-opacity="0.9"/>
<circle cx="375.7" cy="30.6" r="0.65" fill="#c8ecff" fill-opacity="0.75"/>
<circle cx="373.5" cy="117.5" r="4.90" fill="url(#gPt)"/>
<circle cx="372.6" cy="115.8" r="0.75" fill="#d8f4ff" fill-opacity="0.9"/>
<circle cx="374.1" cy="118.6" r="0.65" fill="#c8ecff" fill-opacity="0.75"/>
<circle cx="304.9" cy="67.8" r="4.90" fill="url(#gPt)"/>
<circle cx="304.0" cy="66.1" r="0.75" fill="#d8f4ff" fill-opacity="0.9"/>
<circle cx="305.5" cy="68.9" r="0.65" fill="#c8ecff" fill-opacity="0.75"/>
<circle cx="387.2" cy="39.5" r="4.90" fill="url(#gPt)"/>
<circle cx="386.3" cy="37.8" r="0.75" fill="#d8f4ff" fill-opacity="0.9"/>
<circle cx="387.8" cy="40.6" r="0.65" fill="#c8ecff" fill-opacity="0.75"/>
<circle cx="312.3" cy="48.9" r="4.90" fill="url(#gPt)"/>
<circle cx="311.4" cy="47.2" r="0.75" fill="#d8f4ff" fill-opacity="0.9"/>
<circle cx="312.9" cy="50.0" r="0.65" fill="#c8ecff" fill-opacity="0.75"/>
<circle cx="336.0" cy="117.5" r="4.90" fill="url(#gPt)"/>
<circle cx="335.1" cy="115.8" r="0.75" fill="#d8f4ff" fill-opacity="0.9"/>
<circle cx="336.6" cy="118.6" r="0.65" fill="#c8ecff" fill-opacity="0.75"/>
<circle cx="386.6" cy="107.9" r="4.90" fill="url(#gPt)"/>
<circle cx="385.7" cy="106.2" r="0.75" fill="#d8f4ff" fill-opacity="0.9"/>
<circle cx="387.2" cy="109.0" r="0.65" fill="#c8ecff" fill-opacity="0.75"/>
<circle cx="308.5" cy="58.6" r="4.90" fill="url(#gPt)"/>
<circle cx="307.6" cy="56.9" r="0.75" fill="#d8f4ff" fill-opacity="0.9"/>
<circle cx="309.1" cy="59.7" r="0.65" fill="#c8ecff" fill-opacity="0.75"/>
<circle cx="337.8" cy="29.5" r="4.90" fill="url(#gPt)"/>
<circle cx="336.9" cy="27.8" r="0.75" fill="#d8f4ff" fill-opacity="0.9"/>
<circle cx="338.4" cy="30.6" r="0.65" fill="#c8ecff" fill-opacity="0.75"/>
<circle cx="400.1" cy="67.8" r="4.90" fill="url(#gPt)"/>
<circle cx="399.2" cy="66.1" r="0.75" fill="#d8f4ff" fill-opacity="0.9"/>
<circle cx="400.7" cy="68.9" r="0.65" fill="#c8ecff" fill-opacity="0.75"/>
<circle cx="322.9" cy="107.9" r="4.90" fill="url(#gPt)"/>
<circle cx="322.0" cy="106.2" r="0.75" fill="#d8f4ff" fill-opacity="0.9"/>
<circle cx="323.5" cy="109.0" r="0.65" fill="#c8ecff" fill-opacity="0.75"/>
<circle cx="364.3" cy="117.7" r="4.90" fill="url(#gPt)"/>
<circle cx="363.4" cy="116.0" r="0.75" fill="#d8f4ff" fill-opacity="0.9"/>
<circle cx="364.9" cy="118.8" r="0.65" fill="#c8ecff" fill-opacity="0.75"/>
<circle cx="391.7" cy="48.9" r="4.90" fill="url(#gPt)"/>
<circle cx="390.8" cy="47.2" r="0.75" fill="#d8f4ff" fill-opacity="0.9"/>
<circle cx="392.3" cy="50.0" r="0.65" fill="#c8ecff" fill-opacity="0.75"/>
<circle cx="345.2" cy="117.7" r="4.90" fill="url(#gPt)"/>
<circle cx="344.3" cy="116.0" r="0.75" fill="#d8f4ff" fill-opacity="0.9"/>
<circle cx="345.8" cy="118.8" r="0.65" fill="#c8ecff" fill-opacity="0.75"/>
<circle cx="324.2" cy="40.3" r="4.90" fill="url(#gPt)"/>
<circle cx="323.3" cy="38.6" r="0.75" fill="#d8f4ff" fill-opacity="0.9"/>
<circle cx="324.8" cy="41.4" r="0.65" fill="#c8ecff" fill-opacity="0.75"/>
<circle cx="396.0" cy="58.6" r="4.90" fill="url(#gPt)"/>
<circle cx="395.1" cy="56.9" r="0.75" fill="#d8f4ff" fill-opacity="0.9"/>
<circle cx="396.6" cy="59.7" r="0.65" fill="#c8ecff" fill-opacity="0.75"/>
<circle cx="347.2" cy="29.5" r="4.90" fill="url(#gPt)"/>
<circle cx="346.3" cy="27.8" r="0.75" fill="#d8f4ff" fill-opacity="0.9"/>
<circle cx="347.8" cy="30.6" r="0.65" fill="#c8ecff" fill-opacity="0.75"/>
<circle cx="308.9" cy="77.7" r="4.90" fill="url(#gPt)"/>
<circle cx="308.0" cy="76.0" r="0.75" fill="#d8f4ff" fill-opacity="0.9"/>
<circle cx="309.5" cy="78.8" r="0.65" fill="#c8ecff" fill-opacity="0.75"/>
<circle cx="354.8" cy="117.8" r="4.90" fill="url(#gPt)"/>
<circle cx="353.9" cy="116.1" r="0.75" fill="#d8f4ff" fill-opacity="0.9"/>
<circle cx="355.4" cy="118.9" r="0.65" fill="#c8ecff" fill-opacity="0.75"/>
<circle cx="390.1" cy="97.9" r="4.90" fill="url(#gPt)"/>
<circle cx="389.2" cy="96.2" r="0.75" fill="#d8f4ff" fill-opacity="0.9"/>
<circle cx="390.7" cy="99.0" r="0.65" fill="#c8ecff" fill-opacity="0.75"/>
<circle cx="397.1" cy="77.7" r="4.90" fill="url(#gPt)"/>
<circle cx="396.2" cy="76.0" r="0.75" fill="#d8f4ff" fill-opacity="0.9"/>
<circle cx="397.7" cy="78.8" r="0.65" fill="#c8ecff" fill-opacity="0.75"/>
<circle cx="317.9" cy="97.9" r="4.90" fill="url(#gPt)"/>
<circle cx="317.0" cy="96.2" r="0.75" fill="#d8f4ff" fill-opacity="0.9"/>
<circle cx="318.5" cy="99.0" r="0.65" fill="#c8ecff" fill-opacity="0.75"/>
<circle cx="313.2" cy="87.6" r="4.90" fill="url(#gPt)"/>
<circle cx="312.3" cy="85.9" r="0.75" fill="#d8f4ff" fill-opacity="0.9"/>
<circle cx="313.8" cy="88.7" r="0.65" fill="#c8ecff" fill-opacity="0.75"/>
<circle cx="393.8" cy="87.6" r="4.90" fill="url(#gPt)"/>
<circle cx="392.9" cy="85.9" r="0.75" fill="#d8f4ff" fill-opacity="0.9"/>
<circle cx="394.4" cy="88.7" r="0.65" fill="#c8ecff" fill-opacity="0.75"/>
<circle cx="378.1" cy="108.6" r="4.90" fill="url(#gPt)"/>
<circle cx="377.2" cy="106.9" r="0.75" fill="#d8f4ff" fill-opacity="0.9"/>
<circle cx="378.7" cy="109.7" r="0.65" fill="#c8ecff" fill-opacity="0.75"/>
<circle cx="320.1" cy="49.7" r="4.90" fill="url(#gPt)"/>
<circle cx="319.2" cy="48.0" r="0.75" fill="#d8f4ff" fill-opacity="0.9"/>
<circle cx="320.7" cy="50.8" r="0.65" fill="#c8ecff" fill-opacity="0.75"/>
<circle cx="312.2" cy="68.7" r="4.90" fill="url(#gPt)"/>
<circle cx="311.3" cy="67.0" r="0.75" fill="#d8f4ff" fill-opacity="0.9"/>
<circle cx="312.8" cy="69.8" r="0.65" fill="#c8ecff" fill-opacity="0.75"/>
<circle cx="331.4" cy="108.6" r="4.90" fill="url(#gPt)"/>
<circle cx="330.5" cy="106.9" r="0.75" fill="#d8f4ff" fill-opacity="0.9"/>
<circle cx="332.0" cy="109.7" r="0.65" fill="#c8ecff" fill-opacity="0.75"/>
<circle cx="316.0" cy="59.4" r="4.90" fill="url(#gPt)"/>
<circle cx="315.1" cy="57.7" r="0.75" fill="#d8f4ff" fill-opacity="0.9"/>
<circle cx="316.6" cy="60.5" r="0.65" fill="#c8ecff" fill-opacity="0.75"/>
<circle cx="332.9" cy="41.0" r="4.90" fill="url(#gPt)"/>
<circle cx="332.0" cy="39.3" r="0.75" fill="#d8f4ff" fill-opacity="0.9"/>
<circle cx="333.5" cy="42.1" r="0.65" fill="#c8ecff" fill-opacity="0.75"/>
<circle cx="392.8" cy="68.7" r="4.90" fill="url(#gPt)"/>
<circle cx="391.9" cy="67.0" r="0.75" fill="#d8f4ff" fill-opacity="0.9"/>
<circle cx="393.4" cy="69.8" r="0.65" fill="#c8ecff" fill-opacity="0.75"/>
<circle cx="369.0" cy="109.2" r="4.90" fill="url(#gPt)"/>
<circle cx="368.1" cy="107.5" r="0.75" fill="#d8f4ff" fill-opacity="0.9"/>
<circle cx="369.6" cy="110.3" r="0.65" fill="#c8ecff" fill-opacity="0.75"/>
<circle cx="381.8" cy="98.6" r="4.90" fill="url(#gPt)"/>
<circle cx="380.9" cy="96.9" r="0.75" fill="#d8f4ff" fill-opacity="0.9"/>
<circle cx="382.4" cy="99.7" r="0.65" fill="#c8ecff" fill-opacity="0.75"/>
<circle cx="316.6" cy="78.5" r="4.90" fill="url(#gPt)"/>
<circle cx="315.7" cy="76.8" r="0.75" fill="#d8f4ff" fill-opacity="0.9"/>
<circle cx="317.2" cy="79.6" r="0.65" fill="#c8ecff" fill-opacity="0.75"/>
<circle cx="340.5" cy="109.2" r="4.90" fill="url(#gPt)"/>
<circle cx="339.6" cy="107.5" r="0.75" fill="#d8f4ff" fill-opacity="0.9"/>
<circle cx="341.1" cy="110.3" r="0.65" fill="#c8ecff" fill-opacity="0.75"/>
<circle cx="326.2" cy="98.6" r="4.90" fill="url(#gPt)"/>
<circle cx="325.3" cy="96.9" r="0.75" fill="#d8f4ff" fill-opacity="0.9"/>
<circle cx="326.8" cy="99.7" r="0.65" fill="#c8ecff" fill-opacity="0.75"/>
<circle cx="328.6" cy="50.4" r="4.90" fill="url(#gPt)"/>
<circle cx="327.7" cy="48.7" r="0.75" fill="#d8f4ff" fill-opacity="0.9"/>
<circle cx="329.2" cy="51.5" r="0.65" fill="#c8ecff" fill-opacity="0.75"/>
<circle cx="321.3" cy="88.4" r="4.90" fill="url(#gPt)"/>
<circle cx="320.4" cy="86.7" r="0.75" fill="#d8f4ff" fill-opacity="0.9"/>
<circle cx="321.9" cy="89.5" r="0.65" fill="#c8ecff" fill-opacity="0.75"/>
<circle cx="385.7" cy="88.4" r="4.90" fill="url(#gPt)"/>
<circle cx="384.8" cy="86.7" r="0.75" fill="#d8f4ff" fill-opacity="0.9"/>
<circle cx="386.3" cy="89.5" r="0.65" fill="#c8ecff" fill-opacity="0.75"/>
<circle cx="359.5" cy="109.4" r="4.90" fill="url(#gPt)"/>
<circle cx="358.6" cy="107.7" r="0.75" fill="#d8f4ff" fill-opacity="0.9"/>
<circle cx="360.1" cy="110.5" r="0.65" fill="#c8ecff" fill-opacity="0.75"/>
<circle cx="350.0" cy="109.4" r="4.90" fill="url(#gPt)"/>
<circle cx="349.1" cy="107.7" r="0.75" fill="#d8f4ff" fill-opacity="0.9"/>
<circle cx="350.6" cy="110.5" r="0.65" fill="#c8ecff" fill-opacity="0.75"/>
<circle cx="320.3" cy="69.5" r="4.90" fill="url(#gPt)"/>
<circle cx="319.4" cy="67.8" r="0.75" fill="#d8f4ff" fill-opacity="0.9"/>
<circle cx="320.9" cy="70.6" r="0.65" fill="#c8ecff" fill-opacity="0.75"/>
<circle cx="324.4" cy="60.2" r="4.90" fill="url(#gPt)"/>
<circle cx="323.5" cy="58.5" r="0.75" fill="#d8f4ff" fill-opacity="0.9"/>
<circle cx="325.0" cy="61.3" r="0.65" fill="#c8ecff" fill-opacity="0.75"/>
<circle cx="372.9" cy="99.2" r="4.90" fill="url(#gPt)"/>
<circle cx="372.0" cy="97.5" r="0.75" fill="#d8f4ff" fill-opacity="0.9"/>
<circle cx="373.5" cy="100.3" r="0.65" fill="#c8ecff" fill-opacity="0.75"/>
<circle cx="335.1" cy="99.2" r="4.90" fill="url(#gPt)"/>
<circle cx="334.2" cy="97.5" r="0.75" fill="#d8f4ff" fill-opacity="0.9"/>
<circle cx="335.7" cy="100.3" r="0.65" fill="#c8ecff" fill-opacity="0.75"/>
<circle cx="363.6" cy="99.6" r="4.90" fill="url(#gPt)"/>
<circle cx="362.7" cy="97.9" r="0.75" fill="#d8f4ff" fill-opacity="0.9"/>
<circle cx="364.2" cy="100.7" r="0.65" fill="#c8ecff" fill-opacity="0.75"/>
<circle cx="344.4" cy="99.6" r="4.90" fill="url(#gPt)"/>
<circle cx="343.5" cy="97.9" r="0.75" fill="#d8f4ff" fill-opacity="0.9"/>
<circle cx="345.0" cy="100.7" r="0.65" fill="#c8ecff" fill-opacity="0.75"/>
<circle cx="354.0" cy="99.7" r="4.90" fill="url(#gPt)"/>
<circle cx="353.1" cy="98.0" r="0.75" fill="#d8f4ff" fill-opacity="0.9"/>
<circle cx="354.6" cy="100.8" r="0.65" fill="#c8ecff" fill-opacity="0.75"/>
<circle cx="320.5" cy="29.5" r="3.8" fill="url(#gFe)"/>
<circle cx="319.7" cy="28.1" r="0.7" fill="#f4dcff" fill-opacity="0.8"/>
<circle cx="314" cy="43.5" r="4" fill="url(#gFe)"/>
<circle cx="313.2" cy="42.1" r="0.7" fill="#f4dcff" fill-opacity="0.8"/>
<circle cx="398" cy="39.7" r="4.2" fill="url(#gFe)"/>
<circle cx="397.2" cy="38.3" r="0.7" fill="#f4dcff" fill-opacity="0.8"/>
<circle cx="358" cy="120.5" r="4.3" fill="url(#gFe)"/>
<circle cx="357.2" cy="119.1" r="0.7" fill="#f4dcff" fill-opacity="0.8"/>
<circle cx="376" cy="120.5" r="4.3" fill="url(#gFe)"/>
<circle cx="375.2" cy="119.1" r="0.7" fill="#f4dcff" fill-opacity="0.8"/>
<circle cx="367" cy="118" r="4" fill="url(#gFe)"/>
<circle cx="366.2" cy="116.6" r="0.7" fill="#f4dcff" fill-opacity="0.8"/>
<circle cx="310.1" cy="34.1" r="5.9" fill="url(#gO)"/>
<circle cx="308.9" cy="31.4" r="0.94" fill="#fff2d0" fill-opacity="0.9"/>
<circle cx="311.6" cy="34.4" r="0.83" fill="#fff2d0" fill-opacity="0.8"/>
<circle cx="307.4" cy="34.7" r="0.71" fill="#fff2d0" fill-opacity="0.7"/>
<circle cx="310.7" cy="37.1" r="0.71" fill="#fff2d0" fill-opacity="0.6"/>
<circle cx="321.7" cy="35.6" r="5.6" fill="url(#gO)"/>
<circle cx="320.6" cy="33.1" r="0.90" fill="#fff2d0" fill-opacity="0.9"/>
<circle cx="323.1" cy="35.9" r="0.78" fill="#fff2d0" fill-opacity="0.8"/>
<circle cx="319.2" cy="36.2" r="0.67" fill="#fff2d0" fill-opacity="0.7"/>
<circle cx="322.3" cy="38.4" r="0.67" fill="#fff2d0" fill-opacity="0.6"/>
<circle cx="400.5" cy="30" r="5" fill="url(#gO)"/>
<circle cx="399.5" cy="27.8" r="0.80" fill="#fff2d0" fill-opacity="0.9"/>
<circle cx="401.8" cy="30.2" r="0.70" fill="#fff2d0" fill-opacity="0.8"/>
<circle cx="398.2" cy="30.5" r="0.60" fill="#fff2d0" fill-opacity="0.7"/>
<circle cx="401.0" cy="32.5" r="0.60" fill="#fff2d0" fill-opacity="0.6"/>
<circle cx="407.5" cy="40.9" r="5.5" fill="url(#gO)"/>
<circle cx="406.4" cy="38.4" r="0.88" fill="#fff2d0" fill-opacity="0.9"/>
<circle cx="408.9" cy="41.2" r="0.77" fill="#fff2d0" fill-opacity="0.8"/>
<circle cx="405.0" cy="41.4" r="0.66" fill="#fff2d0" fill-opacity="0.7"/>
<circle cx="408.1" cy="43.6" r="0.66" fill="#fff2d0" fill-opacity="0.6"/>
<circle cx="367.5" cy="124.3" r="6" fill="url(#gO)"/>
<circle cx="366.3" cy="121.6" r="0.96" fill="#fff2d0" fill-opacity="0.9"/>
<circle cx="369.0" cy="124.6" r="0.84" fill="#fff2d0" fill-opacity="0.8"/>
<circle cx="364.8" cy="124.9" r="0.72" fill="#fff2d0" fill-opacity="0.7"/>
<circle cx="368.1" cy="127.3" r="0.72" fill="#fff2d0" fill-opacity="0.6"/>
<circle cx="364" cy="133.6" r="5.8" fill="url(#gO)"/>
<circle cx="362.8" cy="131.0" r="0.93" fill="#fff2d0" fill-opacity="0.9"/>
<circle cx="365.4" cy="133.9" r="0.81" fill="#fff2d0" fill-opacity="0.8"/>
<circle cx="361.4" cy="134.2" r="0.70" fill="#fff2d0" fill-opacity="0.7"/>
<circle cx="364.6" cy="136.5" r="0.70" fill="#fff2d0" fill-opacity="0.6"/>
<circle cx="297.6" cy="157.3" r="6.2" fill="url(#gPt)"/>
<circle cx="296.6" cy="154.6" r="1.0" fill="#d8f4ff" fill-opacity="0.9"/><circle cx="299.6" cy="158.6" r="0.9" fill="#c8ecff" fill-opacity="0.8"/><circle cx="294.8" cy="158.0" r="0.7" fill="#c8ecff" fill-opacity="0.6"/>
<circle cx="343" cy="157.3" r="6.2" fill="url(#gFe)"/>
<circle cx="342" cy="154.6" r="1.0" fill="#f4d8ff" fill-opacity="0.8"/><circle cx="345" cy="158.6" r="0.9" fill="#f0d0ff" fill-opacity="0.7"/>
<circle cx="392.2" cy="157.6" r="6.2" fill="url(#gO)"/>
<circle cx="391.2" cy="154.9" r="1.0" fill="#fff4d0" fill-opacity="0.9"/><circle cx="394.2" cy="158.9" r="0.9" fill="#fff0c8" fill-opacity="0.8"/><circle cx="389.4" cy="158.3" r="0.7" fill="#fff0c8" fill-opacity="0.6"/>
<text x="309" y="162.9" font-size="16">Pt</text>
<text x="351.7" y="162.9" font-size="16">Fe</text>
<text x="401.6" y="162.9" font-size="16">O</text>
<g clip-path="url(#clipA)" fill="none" stroke-width="1.3" stroke-linejoin="round">
<path d="M43.00,120.40 C50.17,120.40 78.07,120.48 86.00,120.40 C93.93,120.32 88.90,120.08 90.60,119.90 C92.30,119.72 94.57,119.73 96.20,119.30 C97.83,118.87 98.98,117.83 100.40,117.30 C101.82,116.77 103.28,116.40 104.70,116.10 C106.12,115.80 107.50,115.57 108.90,115.50 C110.30,115.43 111.70,115.67 113.10,115.70 C114.50,115.73 115.90,115.75 117.30,115.70 C118.70,115.65 120.10,115.58 121.50,115.40 C122.90,115.22 124.30,115.02 125.70,114.60 C127.10,114.18 128.68,113.53 129.90,112.90 C131.12,112.27 131.98,111.70 133.00,110.80 C134.02,109.90 134.92,108.88 136.00,107.50 C137.08,106.12 138.25,104.75 139.50,102.50 C140.75,100.25 141.72,97.95 143.50,94.00 C145.28,90.05 147.95,83.57 150.20,78.80 C152.45,74.03 155.37,69.20 157.00,65.40 C158.63,61.60 158.80,59.48 160.00,56.00 C161.20,52.52 162.80,48.05 164.20,44.50 C165.60,40.95 167.00,37.27 168.40,34.70 C169.80,32.13 171.18,30.52 172.60,29.10 C174.02,27.68 175.48,26.87 176.90,26.20 C178.32,25.53 179.70,25.57 181.10,25.10 C182.50,24.63 183.90,24.10 185.30,23.40 C186.70,22.70 188.22,21.37 189.50,20.90 C190.78,20.43 191.83,20.30 193.00,20.60 C194.17,20.90 195.22,21.77 196.50,22.70 C197.78,23.63 199.28,25.13 200.70,26.20 C202.12,27.27 203.58,28.35 205.00,29.10 C206.42,29.85 207.80,30.05 209.20,30.70 C210.60,31.35 211.83,32.08 213.40,33.00 C214.97,33.92 217.73,35.67 218.60,36.20" stroke="#ff0000"/>
<path d="M43.00,120.40 C50.17,120.40 78.25,120.53 86.00,120.40 C93.75,120.27 88.27,120.27 89.50,119.60 C90.73,118.93 92.05,117.57 93.40,116.40 C94.75,115.23 96.18,113.88 97.60,112.60 C99.02,111.32 100.48,109.70 101.90,108.70 C103.32,107.70 104.70,107.30 106.10,106.60 C107.50,105.90 108.90,105.13 110.30,104.50 C111.70,103.87 113.10,103.38 114.50,102.80 C115.90,102.22 117.30,101.65 118.70,101.00 C120.10,100.35 121.50,99.72 122.90,98.90 C124.30,98.08 125.70,97.03 127.10,96.10 C128.50,95.17 129.98,94.32 131.30,93.30 C132.62,92.28 133.82,91.28 135.00,90.00 C136.18,88.72 137.27,87.43 138.40,85.60 C139.53,83.77 140.67,81.25 141.80,79.00 C142.93,76.75 143.80,74.93 145.20,72.10 C146.60,69.27 148.52,65.37 150.20,62.00 C151.88,58.63 153.60,54.57 155.30,51.90 C157.00,49.23 158.68,47.73 160.40,46.00 C162.12,44.27 163.80,42.80 165.60,41.50 C167.40,40.20 169.32,39.15 171.20,38.20 C173.08,37.25 175.02,36.50 176.90,35.80 C178.78,35.10 180.87,34.18 182.50,34.00 C184.13,33.82 185.30,34.23 186.70,34.70 C188.10,35.17 189.27,35.87 190.90,36.80 C192.53,37.73 194.62,39.25 196.50,40.30 C198.38,41.35 200.32,42.35 202.20,43.10 C204.08,43.85 205.93,44.22 207.80,44.80 C209.67,45.38 211.60,46.07 213.40,46.60 C215.20,47.13 217.73,47.77 218.60,48.00" stroke="#0000ff"/>
<path d="M43.00,120.20 C50.17,120.20 78.30,120.32 86.00,120.20 C93.70,120.08 87.97,120.25 89.20,119.50 C90.43,118.75 92.00,117.03 93.40,115.70 C94.80,114.37 96.18,112.78 97.60,111.50 C99.02,110.22 100.48,108.98 101.90,108.00 C103.32,107.02 104.70,106.42 106.10,105.60 C107.50,104.78 108.90,103.75 110.30,103.10 C111.70,102.45 113.10,102.28 114.50,101.70 C115.90,101.12 117.30,100.30 118.70,99.60 C120.10,98.90 121.50,98.32 122.90,97.50 C124.30,96.68 125.70,95.75 127.10,94.70 C128.50,93.65 129.98,92.50 131.30,91.20 C132.62,89.90 133.80,88.52 135.00,86.90 C136.20,85.28 137.08,83.97 138.50,81.50 C139.92,79.03 141.83,75.63 143.50,72.10 C145.17,68.57 146.82,63.82 148.50,60.30 C150.18,56.78 151.90,53.53 153.60,51.00 C155.30,48.47 157.02,46.58 158.70,45.10 C160.38,43.62 162.07,42.95 163.70,42.10 C165.33,41.25 166.95,40.53 168.50,40.00 C170.05,39.47 171.50,39.33 173.00,38.90 C174.50,38.47 175.92,37.82 177.50,37.40 C179.08,36.98 180.73,36.27 182.50,36.40 C184.27,36.53 186.23,37.32 188.10,38.20 C189.97,39.08 191.83,40.60 193.70,41.70 C195.57,42.80 197.42,43.92 199.30,44.80 C201.18,45.68 203.12,46.40 205.00,47.00 C206.88,47.60 208.33,47.77 210.60,48.40 C212.87,49.03 217.27,50.40 218.60,50.80" stroke="#008b8b"/>
<path d="M43.00,120.20 C50.17,120.20 78.30,120.40 86.00,120.20 C93.70,120.00 88.28,119.70 89.20,119.00 C90.12,118.30 90.80,117.07 91.50,116.00 C92.20,114.93 92.38,114.28 93.40,112.60 C94.42,110.92 96.18,107.72 97.60,105.90 C99.02,104.08 100.48,102.87 101.90,101.70 C103.32,100.53 104.70,99.72 106.10,98.90 C107.50,98.08 108.90,97.27 110.30,96.80 C111.70,96.33 113.10,96.45 114.50,96.10 C115.90,95.75 117.30,95.40 118.70,94.70 C120.10,94.00 121.50,93.08 122.90,91.90 C124.30,90.72 125.70,88.90 127.10,87.60 C128.50,86.30 129.97,85.45 131.30,84.10 C132.63,82.75 133.63,81.37 135.10,79.50 C136.57,77.63 138.42,74.83 140.10,72.90 C141.78,70.97 143.52,69.30 145.20,67.90 C146.88,66.50 148.23,65.48 150.20,64.50 C152.17,63.52 154.75,63.12 157.00,62.00 C159.25,60.88 161.95,58.97 163.70,57.80 C165.45,56.63 166.25,55.82 167.50,55.00 C168.75,54.18 169.63,53.72 171.20,52.90 C172.77,52.08 175.25,50.80 176.90,50.10 C178.55,49.40 179.70,48.82 181.10,48.70 C182.50,48.58 183.90,48.88 185.30,49.40 C186.70,49.92 188.10,50.93 189.50,51.80 C190.90,52.67 192.30,53.82 193.70,54.60 C195.10,55.38 196.48,56.12 197.90,56.50 C199.32,56.88 200.55,56.83 202.20,56.90 C203.85,56.97 205.93,56.97 207.80,56.90 C209.67,56.83 211.60,56.70 213.40,56.50 C215.20,56.30 217.73,55.83 218.60,55.70" stroke="#000000"/>
<path d="M43.00,119.90 C47.50,119.90 63.00,119.93 70.00,119.90 C77.00,119.87 81.80,119.93 85.00,119.70 C88.20,119.47 87.80,119.87 89.20,118.50 C90.60,117.13 92.00,113.72 93.40,111.50 C94.80,109.28 96.18,106.95 97.60,105.20 C99.02,103.45 100.48,102.28 101.90,101.00 C103.32,99.72 104.70,98.55 106.10,97.50 C107.50,96.45 108.90,95.40 110.30,94.70 C111.70,94.00 113.10,93.82 114.50,93.30 C115.90,92.78 117.30,92.32 118.70,91.60 C120.10,90.88 121.50,90.13 122.90,89.00 C124.30,87.87 125.70,86.20 127.10,84.80 C128.50,83.40 129.70,82.72 131.30,80.60 C132.90,78.48 134.67,75.07 136.70,72.10 C138.73,69.13 141.53,65.47 143.50,62.80 C145.47,60.13 146.82,57.92 148.50,56.10 C150.18,54.28 151.90,53.03 153.60,51.90 C155.30,50.77 157.02,49.87 158.70,49.30 C160.38,48.73 162.15,48.62 163.70,48.50 C165.25,48.38 166.75,48.57 168.00,48.60 C169.25,48.63 169.72,48.73 171.20,48.70 C172.68,48.67 175.02,48.48 176.90,48.40 C178.78,48.32 180.63,48.03 182.50,48.20 C184.37,48.37 186.23,48.88 188.10,49.40 C189.97,49.92 191.83,50.72 193.70,51.30 C195.57,51.88 197.42,52.43 199.30,52.90 C201.18,53.37 203.12,53.82 205.00,54.10 C206.88,54.38 208.33,54.33 210.60,54.60 C212.87,54.87 217.27,55.52 218.60,55.70" stroke="#ff00ff"/>
</g>
<rect x="43.0" y="5.9" width="176.20" height="128.70" fill="none" stroke="#2a2a2a" stroke-width="1.7"/>
<line x1="65.03" y1="134.6" x2="65.03" y2="132.4" stroke="#2a2a2a" stroke-width="1.2"/>
<line x1="87.05" y1="134.6" x2="87.05" y2="131.7" stroke="#2a2a2a" stroke-width="1.2"/>
<line x1="109.08" y1="134.6" x2="109.08" y2="132.4" stroke="#2a2a2a" stroke-width="1.2"/>
<line x1="131.10" y1="134.6" x2="131.10" y2="131.7" stroke="#2a2a2a" stroke-width="1.2"/>
<line x1="153.12" y1="134.6" x2="153.12" y2="132.4" stroke="#2a2a2a" stroke-width="1.2"/>
<line x1="175.15" y1="134.6" x2="175.15" y2="131.7" stroke="#2a2a2a" stroke-width="1.2"/>
<line x1="197.18" y1="134.6" x2="197.18" y2="132.4" stroke="#2a2a2a" stroke-width="1.2"/>
<text x="43.00" y="149.90" font-size="15" text-anchor="middle" >7,100</text>
<text x="87.05" y="149.90" font-size="15" text-anchor="middle" >7,110</text>
<text x="131.10" y="149.90" font-size="15" text-anchor="middle" >7,120</text>
<text x="175.15" y="149.90" font-size="15" text-anchor="middle" >7,130</text>
<text x="219.20" y="149.90" font-size="15" text-anchor="middle" >7,140</text>
<text x="136.60" y="171.10" font-size="15.5" text-anchor="middle" >Energy (eV)</text>
<text transform="translate(16.4,72.8) rotate(-90)" font-size="15.3" text-anchor="middle">Normalized</text>
<text transform="translate(31.8,70.7) rotate(-90)" font-size="15" text-anchor="middle">absorbance (a.u.)</text>
<line x1="50.8" y1="15" x2="65" y2="15" stroke="#000000" stroke-width="1.5"/>
<text x="67.60" y="19.70" font-size="14.2" text-anchor="start" >Fe foil</text>
<line x1="50.8" y1="31" x2="65" y2="31" stroke="#ff0000" stroke-width="1.5"/>
<text x="67.60" y="35.70" font-size="14.2" text-anchor="start" >Fe<tspan font-size="9.6" dy="3.3">2</tspan><tspan dy="-3.3">O</tspan><tspan font-size="9.6" dy="3.3">3</tspan></text>
<line x1="50.8" y1="47.3" x2="65" y2="47.3" stroke="#0000ff" stroke-width="1.5"/>
<text x="67.60" y="52.00" font-size="14.2" text-anchor="start" >PtFe/C</text>
<line x1="50.8" y1="63.4" x2="65" y2="63.4" stroke="#008b8b" stroke-width="1.5"/>
<text x="67.60" y="68.10" font-size="14.2" text-anchor="start" >PtFe/C-acid</text>
<line x1="50.8" y1="79.5" x2="65" y2="79.5" stroke="#ff00ff" stroke-width="1.5" stroke-dasharray="2,1"/>
<text x="67.60" y="84.20" font-size="14.2" text-anchor="start" >PtFe@C</text>
<rect x="43.7" y="185.9" width="175.70" height="128.90" fill="none" stroke="#8a8a8a" stroke-width="1.5"/>
<line x1="43.7" y1="185.20000000000002" x2="43.7" y2="315.5" stroke="#444" stroke-width="1.2"/>
<line x1="56.25" y1="314.8" x2="56.25" y2="312.8" stroke="#777" stroke-width="1"/>
<line x1="68.80" y1="314.8" x2="68.80" y2="311.8" stroke="#777" stroke-width="1"/>
<line x1="81.35" y1="314.8" x2="81.35" y2="312.8" stroke="#777" stroke-width="1"/>
<line x1="93.90" y1="314.8" x2="93.90" y2="311.8" stroke="#777" stroke-width="1"/>
<line x1="106.45" y1="314.8" x2="106.45" y2="312.8" stroke="#777" stroke-width="1"/>
<line x1="119.00" y1="314.8" x2="119.00" y2="311.8" stroke="#777" stroke-width="1"/>
<line x1="131.55" y1="314.8" x2="131.55" y2="312.8" stroke="#777" stroke-width="1"/>
<line x1="144.10" y1="314.8" x2="144.10" y2="311.8" stroke="#777" stroke-width="1"/>
<line x1="156.65" y1="314.8" x2="156.65" y2="312.8" stroke="#777" stroke-width="1"/>
<line x1="169.20" y1="314.8" x2="169.20" y2="311.8" stroke="#777" stroke-width="1"/>
<line x1="181.75" y1="314.8" x2="181.75" y2="312.8" stroke="#777" stroke-width="1"/>
<line x1="194.30" y1="314.8" x2="194.30" y2="311.8" stroke="#777" stroke-width="1"/>
<line x1="206.85" y1="314.8" x2="206.85" y2="312.8" stroke="#777" stroke-width="1"/>
<line x1="43.7" y1="306.28" x2="45.7" y2="306.28" stroke="#777" stroke-width="1"/>
<line x1="43.7" y1="298.25" x2="46.7" y2="298.25" stroke="#777" stroke-width="1"/>
<line x1="43.7" y1="290.23" x2="45.7" y2="290.23" stroke="#777" stroke-width="1"/>
<line x1="43.7" y1="282.20" x2="46.7" y2="282.20" stroke="#777" stroke-width="1"/>
<line x1="43.7" y1="274.18" x2="45.7" y2="274.18" stroke="#777" stroke-width="1"/>
<line x1="43.7" y1="266.15" x2="46.7" y2="266.15" stroke="#777" stroke-width="1"/>
<line x1="43.7" y1="258.12" x2="45.7" y2="258.12" stroke="#777" stroke-width="1"/>
<line x1="43.7" y1="250.10" x2="46.7" y2="250.10" stroke="#777" stroke-width="1"/>
<line x1="43.7" y1="242.07" x2="45.7" y2="242.07" stroke="#777" stroke-width="1"/>
<line x1="43.7" y1="234.05" x2="46.7" y2="234.05" stroke="#777" stroke-width="1"/>
<line x1="43.7" y1="226.03" x2="45.7" y2="226.03" stroke="#777" stroke-width="1"/>
<line x1="43.7" y1="218.00" x2="46.7" y2="218.00" stroke="#777" stroke-width="1"/>
<line x1="43.7" y1="209.98" x2="45.7" y2="209.98" stroke="#777" stroke-width="1"/>
<line x1="43.7" y1="201.95" x2="46.7" y2="201.95" stroke="#777" stroke-width="1"/>
<line x1="43.7" y1="193.93" x2="45.7" y2="193.93" stroke="#777" stroke-width="1"/>
<text x="43.70" y="331.90" font-size="15" text-anchor="middle" >0.0</text>
<text x="68.80" y="331.90" font-size="15" text-anchor="middle" >0.5</text>
<text x="93.90" y="331.90" font-size="15" text-anchor="middle" >1.0</text>
<text x="119.00" y="331.90" font-size="15" text-anchor="middle" >1.5</text>
<text x="144.10" y="331.90" font-size="15" text-anchor="middle" >2.0</text>
<text x="169.20" y="331.90" font-size="15" text-anchor="middle" >2.5</text>
<text x="194.30" y="331.90" font-size="15" text-anchor="middle" >3.0</text>
<text x="219.40" y="331.90" font-size="15" text-anchor="middle" >3.5</text>
<text x="41.20" y="318.00" font-size="15" text-anchor="end" >0.3</text>
<text x="41.20" y="301.95" font-size="15" text-anchor="end" >0.4</text>
<text x="41.20" y="285.90" font-size="15" text-anchor="end" >0.5</text>
<text x="41.20" y="269.85" font-size="15" text-anchor="end" >0.6</text>
<text x="41.20" y="253.80" font-size="15" text-anchor="end" >0.7</text>
<text x="41.20" y="237.75" font-size="15" text-anchor="end" >0.8</text>
<text x="41.20" y="221.70" font-size="15" text-anchor="end" >0.9</text>
<text x="41.20" y="205.65" font-size="15" text-anchor="end" >1.0</text>
<text x="41.20" y="189.60" font-size="15" text-anchor="end" >1.1</text>
<text x="56" y="352.8" font-size="15">Current density (A/cm<tspan font-size="10" dy="-6">2</tspan><tspan dy="6">)</tspan></text>
<text transform="translate(11.0,254.5) rotate(-90)" font-size="15" text-anchor="middle">Cell voltage (V)</text>
<path d="M43.80,200.50 L44.50,208.00 L45.50,215.00 L47.60,221.00 L52.00,226.00 L56.40,230.20 L61.50,233.60 L90.00,247.50 L121.10,262.00 L125.60,264.25 L130.10,266.50 L134.60,268.75 L139.10,271.00 L157.00,280.50 L175.80,290.10 L180.30,293.00 L185.30,295.75 L189.80,299.10" stroke="#000" stroke-width="0.9" fill="none"/>
<path d="M43.80,200.30 L44.50,207.50 L45.50,214.00 L47.60,219.50 L52.00,224.50 L56.40,228.60 L61.50,231.20 L90.00,244.60 L121.10,258.90 L140.00,269.00 L160.00,281.00 L170.00,287.50 L175.10,291.70 L180.30,295.30 L184.80,300.30" stroke="#f00" stroke-width="0.9" fill="none"/>
<path d="M43.80,200.00 L44.50,207.00 L45.30,213.00 L46.50,216.00 L48.20,217.60 L52.60,222.20 L57.10,224.80 L61.50,227.90 L66.50,230.70 L71.00,233.00 L76.00,234.80 L80.50,236.80 L85.00,238.60 L90.60,240.60 L95.10,242.90 L99.60,245.10 L105.30,247.40 L109.80,249.60 L115.40,251.90 L119.90,254.10 L125.60,256.80 L130.10,258.90 L134.60,261.10 L139.10,262.90 L143.60,264.70 L148.10,267.00 L153.30,269.20 L157.80,271.00 L162.30,273.70 L166.80,276.00 L171.30,278.40 L175.80,280.70 L180.30,282.90 L185.30,285.60 L189.80,288.60 L194.30,291.30 L198.80,294.60 L203.70,299.10" stroke="#00f" stroke-width="0.9" fill="none"/>
<rect x="42.30" y="199.00" width="3.0" height="3.0" fill="#000"/>
<rect x="43.00" y="206.50" width="3.0" height="3.0" fill="#000"/>
<rect x="44.00" y="213.50" width="3.0" height="3.0" fill="#000"/>
<rect x="46.30" y="219.73" width="3.0" height="3.0" fill="#000"/>
<rect x="50.80" y="224.79" width="3.0" height="3.0" fill="#000"/>
<rect x="55.30" y="228.97" width="3.0" height="3.0" fill="#000"/>
<rect x="59.80" y="231.97" width="3.0" height="3.0" fill="#000"/>
<rect x="64.30" y="234.20" width="3.0" height="3.0" fill="#000"/>
<rect x="68.80" y="236.39" width="3.0" height="3.0" fill="#000"/>
<rect x="73.30" y="238.59" width="3.0" height="3.0" fill="#000"/>
<rect x="77.80" y="240.78" width="3.0" height="3.0" fill="#000"/>
<rect x="82.30" y="242.98" width="3.0" height="3.0" fill="#000"/>
<rect x="86.80" y="245.17" width="3.0" height="3.0" fill="#000"/>
<rect x="91.30" y="247.31" width="3.0" height="3.0" fill="#000"/>
<rect x="95.80" y="249.40" width="3.0" height="3.0" fill="#000"/>
<rect x="100.30" y="251.50" width="3.0" height="3.0" fill="#000"/>
<rect x="104.80" y="253.60" width="3.0" height="3.0" fill="#000"/>
<rect x="109.30" y="255.70" width="3.0" height="3.0" fill="#000"/>
<rect x="113.80" y="257.80" width="3.0" height="3.0" fill="#000"/>
<rect x="118.30" y="259.89" width="3.0" height="3.0" fill="#000"/>
<rect x="122.80" y="262.10" width="3.0" height="3.0" fill="#000"/>
<rect x="127.30" y="264.35" width="3.0" height="3.0" fill="#000"/>
<rect x="131.80" y="266.60" width="3.0" height="3.0" fill="#000"/>
<rect x="136.30" y="268.85" width="3.0" height="3.0" fill="#000"/>
<rect x="140.80" y="271.20" width="3.0" height="3.0" fill="#000"/>
<rect x="145.30" y="273.59" width="3.0" height="3.0" fill="#000"/>
<rect x="149.80" y="275.97" width="3.0" height="3.0" fill="#000"/>
<rect x="154.30" y="278.36" width="3.0" height="3.0" fill="#000"/>
<rect x="158.80" y="280.69" width="3.0" height="3.0" fill="#000"/>
<rect x="163.30" y="282.98" width="3.0" height="3.0" fill="#000"/>
<rect x="167.80" y="285.28" width="3.0" height="3.0" fill="#000"/>
<rect x="172.30" y="287.58" width="3.0" height="3.0" fill="#000"/>
<rect x="176.80" y="290.21" width="3.0" height="3.0" fill="#000"/>
<rect x="181.30" y="292.88" width="3.0" height="3.0" fill="#000"/>
<rect x="185.80" y="295.74" width="3.0" height="3.0" fill="#000"/>
<rect x="188.30" y="297.60" width="3.0" height="3.0" fill="#000"/>
<circle cx="43.80" cy="200.30" r="1.6" fill="#f00"/>
<circle cx="44.50" cy="207.50" r="1.6" fill="#f00"/>
<circle cx="45.50" cy="214.00" r="1.6" fill="#f00"/>
<circle cx="47.80" cy="219.73" r="1.6" fill="#f00"/>
<circle cx="52.30" cy="224.78" r="1.6" fill="#f00"/>
<circle cx="56.80" cy="228.80" r="1.6" fill="#f00"/>
<circle cx="61.30" cy="231.10" r="1.6" fill="#f00"/>
<circle cx="65.80" cy="233.22" r="1.6" fill="#f00"/>
<circle cx="70.30" cy="235.34" r="1.6" fill="#f00"/>
<circle cx="74.80" cy="237.45" r="1.6" fill="#f00"/>
<circle cx="79.30" cy="239.57" r="1.6" fill="#f00"/>
<circle cx="83.80" cy="241.68" r="1.6" fill="#f00"/>
<circle cx="88.30" cy="243.80" r="1.6" fill="#f00"/>
<circle cx="92.80" cy="245.89" r="1.6" fill="#f00"/>
<circle cx="97.30" cy="247.96" r="1.6" fill="#f00"/>
<circle cx="101.80" cy="250.03" r="1.6" fill="#f00"/>
<circle cx="106.30" cy="252.09" r="1.6" fill="#f00"/>
<circle cx="110.80" cy="254.16" r="1.6" fill="#f00"/>
<circle cx="115.30" cy="256.23" r="1.6" fill="#f00"/>
<circle cx="119.80" cy="258.30" r="1.6" fill="#f00"/>
<circle cx="124.30" cy="260.61" r="1.6" fill="#f00"/>
<circle cx="128.80" cy="263.01" r="1.6" fill="#f00"/>
<circle cx="133.30" cy="265.42" r="1.6" fill="#f00"/>
<circle cx="137.80" cy="267.82" r="1.6" fill="#f00"/>
<circle cx="142.30" cy="270.38" r="1.6" fill="#f00"/>
<circle cx="146.80" cy="273.08" r="1.6" fill="#f00"/>
<circle cx="151.30" cy="275.78" r="1.6" fill="#f00"/>
<circle cx="155.80" cy="278.48" r="1.6" fill="#f00"/>
<circle cx="160.30" cy="281.19" r="1.6" fill="#f00"/>
<circle cx="164.80" cy="284.12" r="1.6" fill="#f00"/>
<circle cx="169.30" cy="287.05" r="1.6" fill="#f00"/>
<circle cx="173.80" cy="290.63" r="1.6" fill="#f00"/>
<circle cx="178.30" cy="293.92" r="1.6" fill="#f00"/>
<circle cx="182.80" cy="298.08" r="1.6" fill="#f00"/>
<circle cx="184.80" cy="300.30" r="1.6" fill="#f00"/>
<path d="M43.80,197.60 L46.10,201.60 L41.50,201.60Z" fill="#00f"/>
<path d="M44.50,204.60 L46.80,208.60 L42.20,208.60Z" fill="#00f"/>
<path d="M45.30,210.60 L47.60,214.60 L43.00,214.60Z" fill="#00f"/>
<path d="M46.50,213.60 L48.80,217.60 L44.20,217.60Z" fill="#00f"/>
<path d="M47.80,214.82 L50.10,218.82 L45.50,218.82Z" fill="#00f"/>
<path d="M52.30,219.49 L54.60,223.49 L50.00,223.49Z" fill="#00f"/>
<path d="M56.80,222.23 L59.10,226.23 L54.50,226.23Z" fill="#00f"/>
<path d="M61.30,225.36 L63.60,229.36 L59.00,229.36Z" fill="#00f"/>
<path d="M65.80,227.91 L68.10,231.91 L63.50,231.91Z" fill="#00f"/>
<path d="M70.30,230.24 L72.60,234.24 L68.00,234.24Z" fill="#00f"/>
<path d="M74.80,231.97 L77.10,235.97 L72.50,235.97Z" fill="#00f"/>
<path d="M79.30,233.87 L81.60,237.87 L77.00,237.87Z" fill="#00f"/>
<path d="M83.80,235.72 L86.10,239.72 L81.50,239.72Z" fill="#00f"/>
<path d="M88.30,237.38 L90.60,241.38 L86.00,241.38Z" fill="#00f"/>
<path d="M92.80,239.32 L95.10,243.32 L90.50,243.32Z" fill="#00f"/>
<path d="M97.30,241.58 L99.60,245.58 L95.00,245.58Z" fill="#00f"/>
<path d="M101.80,243.59 L104.10,247.59 L99.50,247.59Z" fill="#00f"/>
<path d="M106.30,245.49 L108.60,249.49 L104.00,249.49Z" fill="#00f"/>
<path d="M110.80,247.61 L113.10,251.61 L108.50,251.61Z" fill="#00f"/>
<path d="M115.30,249.46 L117.60,253.46 L113.00,253.46Z" fill="#00f"/>
<path d="M119.80,251.65 L122.10,255.65 L117.50,255.65Z" fill="#00f"/>
<path d="M124.30,253.78 L126.60,257.78 L122.00,257.78Z" fill="#00f"/>
<path d="M128.80,255.89 L131.10,259.89 L126.50,259.89Z" fill="#00f"/>
<path d="M133.30,258.06 L135.60,262.06 L131.00,262.06Z" fill="#00f"/>
<path d="M137.80,259.98 L140.10,263.98 L135.50,263.98Z" fill="#00f"/>
<path d="M142.30,261.78 L144.60,265.78 L140.00,265.78Z" fill="#00f"/>
<path d="M146.80,263.94 L149.10,267.94 L144.50,267.94Z" fill="#00f"/>
<path d="M151.30,265.95 L153.60,269.95 L149.00,269.95Z" fill="#00f"/>
<path d="M155.80,267.80 L158.10,271.80 L153.50,271.80Z" fill="#00f"/>
<path d="M160.30,270.10 L162.60,274.10 L158.00,274.10Z" fill="#00f"/>
<path d="M164.80,272.58 L167.10,276.58 L162.50,276.58Z" fill="#00f"/>
<path d="M169.30,274.93 L171.60,278.93 L167.00,278.93Z" fill="#00f"/>
<path d="M173.80,277.28 L176.10,281.28 L171.50,281.28Z" fill="#00f"/>
<path d="M178.30,279.52 L180.60,283.52 L176.00,283.52Z" fill="#00f"/>
<path d="M182.80,281.85 L185.10,285.85 L180.50,285.85Z" fill="#00f"/>
<path d="M187.30,284.53 L189.60,288.53 L185.00,288.53Z" fill="#00f"/>
<path d="M191.80,287.40 L194.10,291.40 L189.50,291.40Z" fill="#00f"/>
<path d="M196.30,290.37 L198.60,294.37 L194.00,294.37Z" fill="#00f"/>
<path d="M200.80,294.04 L203.10,298.04 L198.50,298.04Z" fill="#00f"/>
<path d="M203.70,296.70 L206.00,300.70 L201.40,300.70Z" fill="#00f"/>
<line x1="79.9" y1="195" x2="94.6" y2="195" stroke="#000" stroke-width="0.9"/>
<rect x="85.8" y="193.5" width="3.0" height="3.0" fill="#000"/>
<text x="98.20" y="199.40" font-size="14.5" text-anchor="start" >Pt/C</text>
<line x1="79.9" y1="209.9" x2="94.6" y2="209.9" stroke="#f00" stroke-width="0.9"/>
<circle cx="87.3" cy="209.9" r="1.6" fill="#f00"/>
<text x="98.20" y="214.30" font-size="14.5" text-anchor="start" >PtFe/C</text>
<line x1="79.9" y1="224.6" x2="94.6" y2="224.6" stroke="#00f" stroke-width="0.9"/>
<path d="M87.3,222.2 L89.6,226.2 L85.0,226.2Z" fill="#00f"/>
<text x="98.20" y="229.00" font-size="14.5" text-anchor="start" >PtFe/C-acid</text>
<rect x="272.6" y="187.0" width="176.40" height="129.10" fill="none" stroke="#777" stroke-width="1.5"/>
<line x1="272.6" y1="186.3" x2="272.6" y2="316.8" stroke="#6a6a6a" stroke-width="1.3"/>
<line x1="287.90" y1="316.1" x2="287.90" y2="314.1" stroke="#777" stroke-width="1"/>
<line x1="303.20" y1="316.1" x2="303.20" y2="313.1" stroke="#777" stroke-width="1"/>
<line x1="318.50" y1="316.1" x2="318.50" y2="314.1" stroke="#777" stroke-width="1"/>
<line x1="333.80" y1="316.1" x2="333.80" y2="313.1" stroke="#777" stroke-width="1"/>
<line x1="349.10" y1="316.1" x2="349.10" y2="314.1" stroke="#777" stroke-width="1"/>
<line x1="364.40" y1="316.1" x2="364.40" y2="313.1" stroke="#777" stroke-width="1"/>
<line x1="379.70" y1="316.1" x2="379.70" y2="314.1" stroke="#777" stroke-width="1"/>
<line x1="395.00" y1="316.1" x2="395.00" y2="313.1" stroke="#777" stroke-width="1"/>
<line x1="410.30" y1="316.1" x2="410.30" y2="314.1" stroke="#777" stroke-width="1"/>
<line x1="425.60" y1="316.1" x2="425.60" y2="313.1" stroke="#777" stroke-width="1"/>
<line x1="440.90" y1="316.1" x2="440.90" y2="314.1" stroke="#777" stroke-width="1"/>
<line x1="272.6" y1="303.21" x2="274.6" y2="303.21" stroke="#777" stroke-width="1"/>
<line x1="272.6" y1="290.32" x2="275.6" y2="290.32" stroke="#777" stroke-width="1"/>
<line x1="272.6" y1="277.43" x2="274.6" y2="277.43" stroke="#777" stroke-width="1"/>
<line x1="272.6" y1="264.54" x2="275.6" y2="264.54" stroke="#777" stroke-width="1"/>
<line x1="272.6" y1="251.65" x2="274.6" y2="251.65" stroke="#777" stroke-width="1"/>
<line x1="272.6" y1="238.76" x2="275.6" y2="238.76" stroke="#777" stroke-width="1"/>
<line x1="272.6" y1="225.87" x2="274.6" y2="225.87" stroke="#777" stroke-width="1"/>
<line x1="272.6" y1="212.98" x2="275.6" y2="212.98" stroke="#777" stroke-width="1"/>
<line x1="272.6" y1="200.09" x2="274.6" y2="200.09" stroke="#777" stroke-width="1"/>
<text x="272.60" y="332.00" font-size="15" text-anchor="middle" >0</text>
<text x="303.20" y="332.00" font-size="15" text-anchor="middle" >200</text>
<text x="333.80" y="332.00" font-size="15" text-anchor="middle" >400</text>
<text x="364.40" y="332.00" font-size="15" text-anchor="middle" >600</text>
<text x="395.00" y="332.00" font-size="15" text-anchor="middle" >800</text>
<text x="425.60" y="332.00" font-size="15" text-anchor="middle" >1,000</text>
<text x="269.60" y="321.10" font-size="15" text-anchor="end" >0.4</text>
<text x="269.60" y="295.32" font-size="15" text-anchor="end" >0.5</text>
<text x="269.60" y="269.54" font-size="15" text-anchor="end" >0.6</text>
<text x="269.60" y="243.76" font-size="15" text-anchor="end" >0.7</text>
<text x="269.60" y="217.98" font-size="15" text-anchor="end" >0.8</text>
<text x="269.60" y="192.20" font-size="15" text-anchor="end" >0.9</text>
<text x="362.00" y="351.30" font-size="15.5" text-anchor="middle" >Time (h)</text>
<text transform="translate(241.9,255.1) rotate(-90)" font-size="15" text-anchor="middle">Cell voltage (V)</text>
<path d="M272.60,232.00 L275.50,230.70 L285.00,232.00 L297.00,232.90 L310.00,232.50 L313.30,232.30 L313.70,228.90 L314.30,229.60 L315.50,231.60 L318.00,232.00 L330.00,232.40 L336.00,232.70 L343.40,232.70 L343.80,229.30 L344.50,230.50 L345.50,232.70 L352.00,234.00 L360.00,234.70 L367.40,235.30 L367.90,230.70 L369.00,233.50 L371.00,236.80 L373.80,237.00 L374.30,231.30 L375.50,233.00 L377.30,233.70 L383.00,234.30 L387.50,234.70 L387.90,229.70 L388.60,233.50 L389.70,234.00 L393.70,235.00 L400.90,235.30 L401.30,229.30 L402.00,233.50 L405.70,234.70 L409.70,235.30 L411.30,233.50 L411.70,232.00 L412.40,233.20 L413.70,233.40 L415.00,236.00 L420.30,237.30 L421.40,237.30 L421.70,233.30 L422.10,237.70 L443.00,237.90" stroke="#f00" stroke-width="1.15" fill="none" stroke-linejoin="round"/>
<path d="M272.60,244.00 L276.00,242.00 L280.00,240.70 L285.00,239.50 L290.00,238.70 L300.00,237.70 L310.00,238.00 L311.30,238.30 L311.60,241.30 L312.40,235.30 L313.50,237.00 L314.50,234.60 L316.00,234.50 L316.80,244.50 L317.50,236.00 L319.00,238.50 L320.00,237.30 L322.70,237.70 L325.30,236.70 L330.70,237.30 L331.80,237.30 L332.00,242.00 L332.30,234.70 L333.00,237.30 L335.10,237.30 L335.30,244.00 L335.60,234.70 L336.50,237.50 L337.50,237.50 L337.70,244.00 L338.00,235.00 L339.00,237.50 L339.20,241.50 L339.50,236.00 L342.70,238.70 L353.30,239.00 L358.70,240.00 L360.00,242.70 L364.00,243.30 L368.00,244.00 L368.70,236.70 L373.30,238.70 L380.30,240.00 L386.30,241.30 L387.50,243.50 L387.70,237.70 L392.30,238.30 L396.30,239.30 L396.60,237.00 L396.90,241.00 L397.20,239.50 L400.30,240.70 L401.70,242.00 L402.20,243.50 L402.60,235.00 L403.50,231.30 L403.90,242.50 L404.30,235.50 L405.70,236.70 L409.70,238.70 L413.70,239.30 L415.00,242.00 L415.70,243.30 L416.60,244.40" stroke="#000" stroke-width="1.3" fill="none" stroke-linejoin="round"/>
<line x1="285.6" y1="198.3" x2="299.6" y2="198.3" stroke="#000" stroke-width="1.3"/>
<text x="303.20" y="203.20" font-size="14.2" text-anchor="start" >Pt/C</text>
<line x1="285.6" y1="212.8" x2="299.6" y2="212.8" stroke="#f00" stroke-width="1.3"/>
<text x="303.20" y="217.70" font-size="14.2" text-anchor="start" >PtFe/C-acid</text>
</svg>
</body></html>
